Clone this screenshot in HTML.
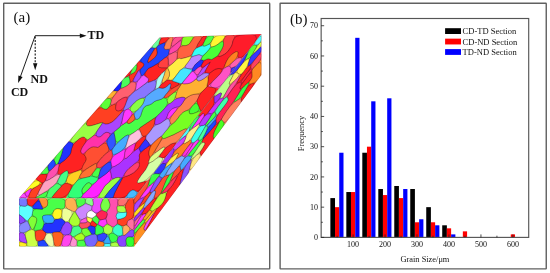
<!DOCTYPE html>
<html><head><meta charset="utf-8"><title>Figure</title>
<style>
html,body{margin:0;padding:0;background:#fff;}
svg{display:block;}
text{font-family:"Liberation Serif",serif;fill:#111;}
.tk{font-size:8px;}
.lb{font-size:8.4px;}
.lg{font-size:8.5px;}
.pl{font-size:15px;}
.ax{font-size:12px;font-weight:bold;}
</style></head><body>
<svg width="550" height="273" viewBox="0 0 550 273">
<rect width="550" height="273" fill="#fff"/>
<!-- panel frames -->
<rect x="3.7" y="3.25" width="266" height="265.65" rx="0.4" fill="#fff" stroke="#606060" stroke-width="1.4"/>
<rect x="280.1" y="3.25" width="266.15" height="265.65" rx="0.4" fill="#fff" stroke="#606060" stroke-width="1.4"/>
<!-- panel a -->
<text x="13.6" y="22.3" class="pl">(a)</text>
<g stroke="#111" stroke-width="0.95" fill="none">
<path d="M35.2 35.7H81"/>
<path d="M35.2 35.7L20.3 77"/>
<path d="M35.2 36.5V64" stroke-dasharray="2 1.4" stroke-width="1.1"/>
</g>
<g fill="#111">
<polygon points="86.6,35.7 79.8,33.5 79.8,37.9"/>
<polygon points="35.2,70.3 33,63.3 37.4,63.3"/>
<polygon points="18.1,83 18.4,75.6 22.6,77.1"/>
</g>
<text x="87.6" y="38.6" class="ax">TD</text>
<text x="30.6" y="83.3" class="ax">ND</text>
<text x="10.9" y="95.8" class="ax">CD</text>
<defs>
<filter id="soft" x="-5%" y="-5%" width="110%" height="110%"><feGaussianBlur stdDeviation="0.45"/></filter>
<clipPath id="blk"><polygon points="19,198 159.5,37.5 261.5,34 261.5,75 134,246.8 19,246.6"/></clipPath>
</defs>
<g clip-path="url(#blk)"><g id="grains" filter="url(#soft)">
<polygon points="14,203 160,33 266,30 266,80 136,252 14,252" fill="#d85060"/>
<polygon points="19,198 134,198 261.5,34 159.5,37.5" fill="#e04060"/>
<polygon points="134,198 261.5,34 261.5,75 134,247" fill="#d06040"/>
<rect x="19" y="198" width="115" height="49" fill="#70c070"/>
<g>
<path fill="#6aff9e" d="M155.2 48.2L156.3 47.6L158.5 45.2L161.1 37.4L159.5 37.5L150.7 47.6Z"/>
<path fill="#ff2222" d="M158.5 45.2L166.0 42.1L170.0 37.1L161.1 37.4ZM207.3 35.9L203.1 36.0L198.0 43.4L195.9 48.3L202.4 45.5ZM123.4 78.7L129.1 75.8L129.7 75.1L132.6 68.2ZM150.3 67.7L148.4 67.8L143.6 74.9L149.0 78.9L147.5 82.0L148.3 82.8L156.7 79.3L161.6 73.6L165.7 70.1L167.5 67.8L157.7 67.6L159.1 62.6ZM158.5 87.7L164.4 88.9L171.6 82.0L169.6 90.1L181.1 83.8L172.2 81.0L172.3 80.7L167.6 79.5L160.7 84.8ZM209.6 73.4L208.6 74.9L207.1 86.8L207.6 86.4L220.9 73.5L222.9 69.2L216.8 68.1L210.6 72.3ZM71.0 149.8L70.6 154.0L65.0 160.1L59.3 163.9L57.2 174.5L60.8 174.6L64.6 171.7L67.7 170.3L68.4 174.2L81.7 169.4L83.0 165.3L87.1 158.9L83.6 153.9L82.3 154.1L80.1 150.6L87.3 140.1L82.9 135.6L73.6 143.5ZM144.3 140.9L145.5 138.9L146.5 135.6L142.5 136.8L135.7 142.8L133.4 151.9L139.0 147.6ZM177.3 142.4L171.3 143.5L165.8 147.7L165.2 147.9L158.4 156.8L164.7 158.5ZM45.3 180.9L47.9 173.7L39.7 174.4L35.5 179.2L42.0 183.1L43.4 182.9ZM204.2 112.6L204.0 116.8L207.1 113.9L214.5 104.3L214.0 97.3L214.2 96.9L214.8 94.1L197.4 116.4L200.2 115.9ZM241.1 81.2L250.7 68.3L251.5 63.8L247.2 67.0L241.5 74.0L235.6 84.5ZM241.6 88.7L249.4 81.5L252.5 77.2L251.9 70.3L241.3 84.6L239.2 88.6ZM248.3 84.8L241.1 97.7L241.1 102.2L241.3 102.2L256.4 81.9ZM201.3 142.5L205.4 142.6L203.2 147.4L199.6 152.6L201.1 156.5L214.7 138.2L213.1 137.9L213.8 132.6L219.7 121.4L216.4 124.0L203.3 138.6ZM173.2 184.7L167.1 191.4L163.9 202.4L157.1 208.5L156.0 210.0L145.4 230.5L145.5 231.4L180.1 184.8L179.8 184.1L184.2 167.6L180.8 170.9L178.6 173.6ZM145.1 207.9L141.7 213.7L141.5 215.1L146.8 213.2L149.6 209.8L157.8 197.0L153.5 198.9ZM38.9 198.0L26.6 198.0L27.5 205.0L32.0 207.0L38.8 199.1ZM92.3 220.3L90.3 223.1L90.3 225.6L95.5 227.0L97.4 224.6Z"/>
<path fill="#2244ff" d="M150.7 47.6L138.8 61.1L145.2 64.2L139.3 70.3L141.6 76.5L143.6 74.9L148.4 67.8L150.3 67.7L159.1 62.6L159.5 62.0L168.1 55.4L168.2 55.2L169.9 49.2L163.3 49.5L166.0 42.1L158.5 45.2L156.3 47.6L157.7 55.1L148.6 62.6L147.7 62.5L148.2 59.7L149.4 56.9L155.2 48.2ZM216.0 118.7L207.8 127.9L202.7 138.6L203.3 138.6L216.4 124.0ZM44.1 239.6L37.5 241.5L37.9 246.6L49.3 246.6Z"/>
<path fill="#ff8050" d="M163.3 49.5L169.9 49.2L170.1 48.9L173.6 37.0L170.0 37.1L166.0 42.1ZM196.5 101.4L198.4 98.1L200.0 93.7L192.0 94.3L185.3 98.5L181.4 105.2L179.3 106.6L169.1 118.9L170.7 125.0L175.2 122.2L182.1 112.5L189.3 109.6ZM152.0 155.6L163.6 146.6L165.2 147.9L165.8 147.7L171.3 143.5L177.3 142.4L187.3 129.5L185.8 128.1L173.0 135.1L172.7 134.8L163.5 139.0L162.3 138.3Z"/>
<path fill="#ff5090" d="M170.1 48.9L182.3 38.7L183.4 36.7L173.6 37.0Z"/>
<path fill="#ff44aa" d="M168.2 55.2L177.5 50.3L180.8 45.8L182.3 38.7L170.1 48.9L169.9 49.2Z"/>
<path fill="#88ff22" d="M188.1 45.6L192.1 40.2L194.1 36.3L183.4 36.7L182.3 38.7L180.8 45.8Z"/>
<path fill="#ff6040" d="M194.1 36.3L192.1 40.2L188.1 45.6L180.8 45.8L177.5 50.3L177.0 59.3L179.3 58.0L180.8 59.1L191.5 55.9L193.9 50.7L195.9 48.3L198.0 43.4L203.1 36.0Z"/>
<path fill="#35fff6" d="M208.3 50.7L210.7 47.2L210.4 43.5L204.6 46.3L202.4 45.5L195.9 48.3L193.9 50.7L191.5 55.9L191.4 56.8L198.6 54.9L199.2 54.6L202.6 56.2Z"/>
<path fill="#ff4020" d="M148.6 62.6L157.7 55.1L156.3 47.6L155.2 48.2L149.4 56.9L148.2 59.7L147.7 62.5ZM110.0 105.9L106.2 110.2L99.3 106.3L86.5 120.9L86.5 127.3L102.4 122.3L102.7 123.0L102.8 123.0L107.0 124.7L114.2 121.0L123.3 110.3L123.3 109.9L115.3 111.4L116.1 103.2ZM154.3 125.4L155.5 117.4L155.4 117.3L140.2 127.3L139.1 128.9L142.5 136.8L146.5 135.6L149.7 132.2ZM36.0 197.2L43.4 182.9L42.0 183.1L31.5 189.3L27.6 198.0L35.4 198.0ZM137.9 208.6L145.4 202.1L151.9 192.5L149.5 192.1L145.0 196.6ZM126.6 212.5L126.8 212.6L125.9 217.3L117.3 219.8L117.2 220.6L117.4 224.0L122.5 226.4L126.7 224.6L127.5 223.2L127.5 220.7L134.0 218.0L134.0 198.0L129.4 198.0L124.6 205.9ZM34.7 230.7L35.3 239.5L37.5 241.5L44.1 239.6L46.6 233.3L42.0 229.4Z"/>
<path fill="#ff6080" d="M173.5 62.9L177.0 59.3L177.5 50.3L168.2 55.2L168.1 55.4L168.4 66.8Z"/>
<path fill="#bb88ff" d="M191.4 56.8L189.3 60.7L183.8 67.8L192.1 69.5L195.1 64.4L200.0 60.6L200.8 59.7L202.6 56.2L199.2 54.6L198.6 54.9Z"/>
<path fill="#ff3322" d="M139.3 70.3L145.2 64.2L138.8 61.1L136.8 63.4L136.6 71.0L129.7 75.1L129.1 75.8L130.2 82.9L132.3 81.7L137.9 71.2Z"/>
<path fill="#4eff4e" d="M129.7 75.1L136.6 71.0L136.8 63.4L132.6 68.2Z"/>
<path fill="#ff4040" d="M168.4 66.8L168.1 55.4L159.5 62.0L159.1 62.6L157.7 67.6L167.5 67.8ZM236.1 34.9L225.9 35.2L223.0 40.2L223.8 45.8L217.8 55.9L220.1 56.8L227.0 53.0L232.4 45.0L232.3 41.9Z"/>
<path fill="#ffef42" d="M191.4 56.8L191.5 55.9L180.8 59.1L179.3 58.0L177.0 59.3L173.5 62.9L168.4 66.8L167.6 67.8L170.1 74.3L167.6 79.5L172.3 80.7L180.3 70.1L180.5 69.9L182.5 69.0L183.8 67.8L189.3 60.7Z"/>
<path fill="#2233ff" d="M200.7 66.3L204.1 60.6L200.8 59.7L200.0 60.6L195.1 64.4L192.1 69.5L191.6 71.7L193.6 71.4L199.3 66.7ZM61.6 154.4L57.8 163.9L59.3 163.9L65.0 160.1L70.6 154.0L71.0 149.8L73.6 143.5L68.9 141.0L63.6 147.1L61.5 154.3ZM43.0 208.5L38.8 199.1L32.0 207.0L33.1 208.8L42.5 209.7ZM65.7 221.9L61.6 218.3L54.6 219.4L53.6 221.9L52.7 223.2L44.3 223.2L42.0 229.4L46.6 233.3L52.2 233.3L53.8 232.0L60.3 232.0L62.0 226.9ZM95.5 227.0L90.3 225.6L88.0 226.9L87.4 227.8L91.8 234.5L95.2 234.1Z"/>
<path fill="#ff50c0" d="M200.7 66.3L199.3 66.7L193.6 71.4L197.4 76.2L202.6 68.0Z"/>
<path fill="#44e6ff" d="M183.8 67.8L182.5 69.0L180.5 69.9L180.3 70.1L172.3 80.7L172.2 81.0L181.1 83.8L181.5 83.7L181.9 83.3L191.6 71.7L192.1 69.5Z"/>
<path fill="#b649ff" d="M210.3 61.9L202.6 68.0L197.4 76.2L196.9 78.0L204.1 72.9L210.2 62.6Z"/>
<path fill="#49ff49" d="M202.4 45.5L204.6 46.3L210.4 43.5L214.8 35.6L207.3 35.9ZM161.0 112.8L168.0 104.3L166.8 98.1L163.3 97.9L162.5 98.3L161.1 99.5L155.3 100.6L150.8 104.6L143.6 106.4L140.2 117.5L137.6 119.3L135.5 119.2L128.9 124.2L126.5 122.1L120.8 126.0L119.6 127.4L114.6 131.2L114.0 132.0L116.0 144.3L123.7 137.1L127.7 134.9L129.1 135.4L134.6 132.3L139.1 128.9L140.2 127.3L155.4 117.3L155.5 117.4ZM63.6 147.1L53.4 158.7L56.1 164.9L57.8 163.9L61.6 154.4L61.5 154.3ZM48.9 172.0L47.5 165.4L39.7 174.4L47.9 173.7ZM96.7 167.8L90.8 175.7L98.3 178.0L100.9 168.0ZM36.0 197.2L35.4 198.0L45.8 198.0L48.8 189.8ZM88.1 181.5L82.4 188.0L81.4 191.5L83.0 194.5L88.9 189.3L92.4 185.0ZM212.5 113.7L205.2 124.7L205.6 126.1L206.6 125.6L216.7 115.4L214.5 111.3ZM142.5 219.7L134.0 230.3L134.0 234.8L144.1 222.8L145.7 219.8ZM47.1 198.0L48.0 205.8L43.0 208.5L42.5 209.7L33.1 208.8L31.9 216.0L37.9 218.0L33.5 229.9L34.7 230.7L42.0 229.4L44.3 223.2L42.1 217.4L43.5 215.0L52.0 215.0L54.8 208.4L62.3 209.4L64.9 207.7L65.5 198.0ZM85.2 203.3L85.7 198.0L75.0 198.0L77.4 208.2L84.1 204.8ZM99.7 220.0L96.2 215.3L92.1 218.5L92.3 220.3L97.4 224.6L97.7 224.5ZM84.3 239.8L77.1 240.6L76.7 246.6L86.7 246.6Z"/>
<path fill="#fff633" d="M210.4 43.5L210.7 47.2L215.7 46.2L223.0 40.2L225.9 35.2L214.8 35.6Z"/>
<path fill="#ff1a2a" d="M236.1 34.9L232.3 41.9L232.4 45.0L227.0 53.0L220.1 56.8L217.8 55.9L213.3 58.3L211.7 59.7L208.1 58.4L204.1 60.6L200.7 66.3L202.6 68.0L210.3 61.9L210.2 62.6L204.1 72.9L209.6 73.4L210.6 72.3L216.8 68.1L222.9 69.2L223.3 68.7L228.6 56.7L238.4 49.9L237.3 57.9L243.1 57.6L261.5 34.0Z"/>
<path fill="#49ff37" d="M223.8 45.8L223.0 40.2L215.7 46.2L210.7 47.2L208.3 50.7L202.6 56.2L200.8 59.7L204.1 60.6L208.1 58.4L211.7 59.7L213.3 58.3L217.8 55.9Z"/>
<path fill="#ff8020" d="M229.0 65.6L237.3 57.9L238.4 49.9L228.6 56.7L223.3 68.7ZM191.9 140.9L190.8 139.7L184.3 143.8L184.4 143.5L183.7 143.0L174.4 151.2L170.6 158.2L179.5 151.6L175.7 159.2L179.2 157.6L181.2 155.7L191.1 142.5ZM97.7 240.7L94.5 246.6L103.9 246.6L104.3 243.5L103.3 241.9Z"/>
<path fill="#ff60b0" d="M237.3 57.9L229.0 65.6L231.2 68.3L236.6 66.0L243.1 57.6Z"/>
<path fill="#ff52c5" d="M229.0 65.6L223.3 68.7L222.9 69.2L220.9 73.5L207.6 86.4L219.0 88.7L230.8 73.5L231.2 68.3Z"/>
<path fill="#49ff5b" d="M120.3 88.8L126.8 86.2L130.2 82.9L129.1 75.8L123.4 78.7L122.0 80.3Z"/>
<path fill="#ee55ff" d="M149.0 78.9L143.6 74.9L141.6 76.5L136.4 82.5L135.3 90.6L136.9 90.3L147.5 82.0Z"/>
<path fill="#a449ff" d="M141.6 76.5L139.3 70.3L137.9 71.2L132.3 81.7L136.4 82.5Z"/>
<path fill="#ffc040" d="M167.6 67.8L165.7 70.1L160.7 84.8L167.6 79.5L170.1 74.3Z"/>
<path fill="#aaffee" d="M161.6 73.6L156.7 79.3L155.3 89.5L156.9 89.0L158.5 87.7L160.7 84.8L165.7 70.1Z"/>
<path fill="#1224ff" d="M119.5 89.8L120.3 88.8L122.0 80.3L112.9 90.8L117.8 91.2Z"/>
<path fill="#ffb030" d="M111.6 98.7L117.8 91.2L112.9 90.8L106.2 98.4ZM207.1 86.8L208.6 74.9L202.0 80.1L197.8 81.2L196.6 78.5L190.3 83.4L183.5 83.9L181.9 83.3L181.5 83.7L177.4 89.9L174.7 99.2L181.7 97.0L185.0 97.7L185.3 98.5L192.0 94.3L200.0 93.7L204.8 89.3Z"/>
<path fill="#ff6070" d="M132.3 81.7L130.2 82.9L126.8 86.2L120.3 88.8L119.5 89.8L117.8 91.2L111.6 98.7L110.0 105.9L116.1 103.2L119.2 100.2L124.6 97.1L128.1 97.2L135.3 90.6L136.4 82.5Z"/>
<path fill="#8877ff" d="M155.3 89.5L156.7 79.3L148.3 82.8L147.5 82.0L136.9 90.3L135.3 90.6L128.1 97.2L123.3 109.9L123.3 110.3L124.2 110.6L128.7 108.7L138.0 99.1L145.1 97.7L147.3 95.0Z"/>
<path fill="#55aaff" d="M169.6 90.1L171.6 82.0L164.4 88.9L158.5 87.7L156.9 89.0L155.3 89.5L147.3 95.0L145.1 97.7L142.6 105.3L133.4 113.4L135.5 119.2L137.6 119.3L140.2 117.5L143.6 106.4L150.8 104.6L155.3 100.6L161.1 99.5L162.5 98.3L163.3 97.9Z"/>
<path fill="#5bff37" d="M106.2 110.2L110.0 105.9L111.6 98.7L106.2 98.4L99.3 106.3ZM244.1 61.4L250.3 57.4L251.5 55.7L257.9 45.0L253.0 44.9L249.1 50.0Z"/>
<path fill="#ff3050" d="M123.3 109.9L128.1 97.2L124.6 97.1L119.2 100.2L116.1 103.2L115.3 111.4Z"/>
<path fill="#88ff44" d="M145.1 97.7L138.0 99.1L128.7 108.7L133.2 113.5L142.6 105.3Z"/>
<path fill="#aa33ff" d="M172.0 102.2L168.0 104.3L161.0 112.8L155.5 117.4L154.3 125.4L159.8 124.1L166.5 118.9L168.5 112.6L172.2 108.5L179.3 106.6L181.4 105.2L185.3 98.5L185.0 97.7L181.7 97.0L174.7 99.2ZM140.7 152.5L139.0 147.6L133.4 151.9L126.4 158.3L124.1 158.9L119.3 163.8L111.6 167.7L110.2 169.8L111.8 179.7L117.5 177.1L121.3 178.1L122.5 177.7L127.1 169.6L138.6 160.8L139.8 158.0L139.1 155.1Z"/>
<path fill="#ff49ff" d="M183.5 83.9L190.3 83.4L196.6 78.5L196.9 78.0L197.4 76.2L193.6 71.4L191.6 71.7L181.9 83.3ZM24.3 193.0L23.1 193.3L19.0 198.0L27.6 198.0ZM146.2 222.8L143.1 229.3L145.4 230.5L156.0 210.0Z"/>
<path fill="#aa88ff" d="M196.9 78.0L196.6 78.5L197.8 81.2L202.0 80.1L208.6 74.9L209.6 73.4L204.1 72.9Z"/>
<path fill="#ff5030" d="M181.1 83.8L169.6 90.1L163.3 97.9L166.8 98.1L177.4 89.9L181.5 83.7ZM109.9 150.6L105.9 141.3L97.6 147.7L97.3 146.9L91.0 146.6L83.6 153.9L87.1 158.9L83.0 165.3L81.7 169.4L81.7 172.2L94.5 163.8L96.9 163.5L103.3 155.8ZM138.6 199.8L147.6 187.4L150.7 176.5L134.0 198.0L134.0 204.7ZM164.4 176.2L162.4 178.3L153.8 190.8L156.1 191.1L153.5 198.9L157.8 197.0L160.9 193.7L166.3 179.7L169.8 174.5ZM169.2 183.2L178.6 173.6L180.8 170.9L179.9 164.9L174.0 171.3Z"/>
<path fill="#ff2121" d="M207.1 86.8L204.8 89.3L200.0 93.7L198.4 98.1L196.5 101.4L200.5 110.8L201.5 111.1L219.0 88.7L207.6 86.4ZM139.9 166.3L133.3 173.5L122.5 177.7L122.5 178.0L114.4 193.1L113.0 197.8L112.9 198.0L124.9 198.0L132.0 188.8L138.1 192.8L147.8 180.2L135.7 184.1L140.6 175.9L146.2 169.4L148.8 163.1L148.3 162.2L150.0 158.0L148.4 152.5L151.2 145.0L150.5 145.1L142.8 150.3L140.7 152.5L139.1 155.1L139.8 158.0L138.6 160.8Z"/>
<path fill="#46ff35" d="M189.1 115.1L200.5 110.8L196.5 101.4L189.3 109.6Z"/>
<path fill="#ff33ff" d="M179.3 106.6L172.2 108.5L168.5 112.6L166.5 118.9L169.1 118.9ZM31.5 189.3L30.9 187.9L24.3 193.0L27.6 198.0ZM125.2 148.7L112.8 156.0L110.7 160.4L111.6 167.7L119.3 163.8L124.1 158.9L125.4 148.9Z"/>
<path fill="#92ff37" d="M166.8 98.1L168.0 104.3L172.0 102.2L174.7 99.2L177.4 89.9Z"/>
<path fill="#4937ff" d="M231.2 68.3L230.8 73.5L236.6 66.0Z"/>
<path fill="#ff37ff" d="M128.7 108.7L124.2 110.6L120.8 126.0L126.5 122.1L133.2 113.5ZM190.1 130.5L199.0 124.1L199.4 123.5L204.0 116.8L204.2 112.6L200.2 115.9ZM138.6 199.8L145.0 196.6L149.5 192.1L155.4 180.7L147.6 187.4ZM141.5 215.1L134.0 227.7L134.0 230.3L142.5 219.7L146.8 213.2ZM103.2 227.3L107.2 223.7L106.6 220.6L105.8 218.8L99.7 220.0L97.7 224.5Z"/>
<path fill="#ff6030" d="M133.4 113.4L133.2 113.5L126.5 122.1L128.9 124.2L135.5 119.2Z"/>
<path fill="#99ff44" d="M86.5 127.3L86.5 120.9L68.9 141.0L73.6 143.5L82.9 135.6L87.3 140.1L90.6 138.3L94.8 134.4L102.7 123.0L102.4 122.3ZM117.5 177.1L111.8 179.7L105.2 185.5L104.7 185.8L97.3 198.0L103.8 198.0L108.0 192.7L109.3 190.7L121.3 178.1Z"/>
<path fill="#aa44ff" d="M120.8 126.0L124.2 110.6L123.3 110.3L114.2 121.0L107.0 124.7L102.8 123.0L102.7 123.0L94.8 134.4L99.2 138.3L106.1 131.4L111.2 134.3L114.0 132.0L114.6 131.2L119.6 127.4ZM137.9 208.6L145.0 196.6L138.6 199.8L134.0 204.7L134.0 213.1ZM19.0 232.3L19.0 241.5L26.7 243.5L27.3 242.5L24.4 232.9Z"/>
<path fill="#ff33aa" d="M106.1 131.4L99.2 138.3L94.8 134.4L90.6 138.3L87.3 140.1L80.1 150.6L82.3 154.1L83.6 153.9L91.0 146.6L97.3 146.9L97.6 147.7L105.9 141.3L111.2 134.3Z"/>
<path fill="#3355ff" d="M109.9 150.6L111.7 149.9L116.0 144.3L114.0 132.0L111.2 134.3L105.9 141.3Z"/>
<path fill="#44aaff" d="M129.1 135.4L127.7 134.9L123.7 137.1L116.0 144.3L111.7 149.9L112.8 156.0L125.2 148.7ZM217.7 114.7L216.7 115.4L206.6 125.6L207.8 127.9L216.0 118.7ZM160.3 173.8L158.8 176.3L162.4 178.3L164.4 176.2L173.9 161.3L164.3 168.5ZM179.9 164.9L180.8 170.9L184.2 167.6L190.4 159.9L192.4 156.1L187.0 155.9L184.6 158.0Z"/>
<path fill="#ffc0e0" d="M142.5 136.8L139.1 128.9L134.6 132.3L129.1 135.4L125.2 148.7L125.4 148.9L134.6 143.1L135.7 142.8Z"/>
<path fill="#ff33dd" d="M133.4 151.9L135.7 142.8L134.6 143.1L125.4 148.9L124.1 158.9L126.4 158.3ZM194.0 142.8L191.1 142.5L181.2 155.7L184.8 156.9Z"/>
<path fill="#77ff22" d="M187.3 129.5L201.5 111.1L200.5 110.8L189.1 115.1L189.3 109.6L182.1 112.5L175.2 122.2L170.7 125.0L162.1 135.3L161.6 136.2L162.3 138.3L163.5 139.0L172.7 134.8L173.0 135.1L185.8 128.1Z"/>
<path fill="#aa99ff" d="M170.7 125.0L169.1 118.9L166.5 118.9L159.8 124.1L154.3 125.4L149.7 132.2L146.5 135.6L145.5 138.9L150.5 145.1L151.2 145.0L158.3 138.3L161.6 136.2L162.1 135.3Z"/>
<path fill="#3333ff" d="M150.5 145.1L145.5 138.9L144.3 140.9L139.0 147.6L140.7 152.5L142.8 150.3ZM160.3 173.8L164.3 168.5L166.8 163.6L160.9 163.4L152.9 173.7Z"/>
<path fill="#ff7020" d="M161.6 136.2L158.3 138.3L151.2 145.0L148.4 152.5L150.0 158.0L152.0 155.6L162.3 138.3Z"/>
<path fill="#ddff88" d="M148.8 163.1L152.8 161.6L158.4 156.8L165.2 147.9L163.6 146.6L152.0 155.6L150.0 158.0L148.3 162.2Z"/>
<path fill="#2449ff" d="M48.9 172.0L56.1 164.9L53.4 158.7L47.5 165.4ZM122.5 178.0L122.5 177.7L121.3 178.1L109.3 190.7L108.0 192.7L103.8 198.0L112.9 198.0L113.0 197.8L114.4 193.1Z"/>
<path fill="#ff50b0" d="M59.3 163.9L57.8 163.9L56.1 164.9L48.9 172.0L47.9 173.7L45.3 180.9L48.1 180.5L57.2 174.5ZM118.1 198.0L107.7 198.0L110.7 206.0L106.4 212.0L107.5 214.4L105.8 218.8L106.6 220.6L107.2 223.7L113.1 227.6L117.4 224.0L117.2 220.6L117.3 219.8L115.8 215.7L117.7 212.5L116.8 207.0L117.8 205.9Z"/>
<path fill="#ffd020" d="M81.7 169.4L68.4 174.2L65.4 182.8L73.2 185.2L75.0 183.5L78.5 179.1L81.7 172.2Z"/>
<path fill="#ff7030" d="M78.5 179.1L89.5 176.9L90.8 175.7L96.7 167.8L96.9 163.5L94.5 163.8L81.7 172.2Z"/>
<path fill="#ffa0c0" d="M60.8 174.6L57.2 174.5L48.1 180.5L45.3 180.9L43.4 182.9L36.0 197.2L48.8 189.8L50.2 188.1L52.7 186.7L56.6 182.8Z"/>
<path fill="#44ff88" d="M65.4 182.8L68.4 174.2L67.7 170.3L64.6 171.7L60.8 174.6L56.6 182.8L61.6 185.7ZM81.7 229.0L78.8 225.6L72.5 226.4L70.2 234.6L72.4 236.7L73.4 237.0L81.7 232.5Z"/>
<path fill="#33ff77" d="M90.8 175.7L89.5 176.9L78.5 179.1L75.0 183.5L73.2 185.2L65.6 198.0L81.2 198.0L83.0 194.5L81.4 191.5L82.4 188.0L88.1 181.5L92.4 185.0L96.5 181.8L98.3 179.1L98.3 178.0Z"/>
<path fill="#ffff22" d="M31.5 189.3L42.0 183.1L35.5 179.2L23.1 193.3L24.3 193.0L30.9 187.9Z"/>
<path fill="#ff3121" d="M65.4 182.8L61.6 185.7L60.1 187.8L53.5 194.7L51.5 198.0L65.6 198.0L73.2 185.2Z"/>
<path fill="#ff22ff" d="M106.4 173.8L98.3 179.1L96.5 181.8L92.4 185.0L88.9 189.3L83.0 194.5L81.2 198.0L97.3 198.0L104.7 185.8L105.2 185.5L111.8 179.7L110.2 169.8Z"/>
<path fill="#49ff6d" d="M52.7 186.7L50.2 188.1L48.8 189.8L45.8 198.0L51.5 198.0L53.5 194.7L60.1 187.8L61.6 185.7L56.6 182.8Z"/>
<path fill="#ff4050" d="M111.7 149.9L109.9 150.6L103.3 155.8L96.9 163.5L96.7 167.8L100.9 168.0L110.7 160.4L112.8 156.0Z"/>
<path fill="#3344ff" d="M110.2 169.8L111.6 167.7L110.7 160.4L100.9 168.0L98.3 178.0L98.3 179.1L106.4 173.8ZM96.7 235.1L97.7 240.7L103.3 241.9L108.0 234.8L103.7 232.8Z"/>
<path fill="#ff4070" d="M139.9 166.3L138.6 160.8L127.1 169.6L122.6 177.7L133.3 173.5Z"/>
<path fill="#d6ffa5" d="M152.8 161.6L148.8 163.1L146.2 169.4L140.6 175.9L135.7 184.1L147.8 180.2L164.7 158.5L158.4 156.8Z"/>
<path fill="#44bbff" d="M132.0 188.8L124.9 198.0L134.0 198.0L138.1 192.8Z"/>
<path fill="#fff742" d="M241.5 74.0L247.2 67.0L250.3 57.4L244.1 61.4L235.4 72.2L240.7 74.5Z"/>
<path fill="#3737ff" d="M234.3 73.4L235.4 72.2L244.1 61.4L249.1 50.0L228.9 75.9ZM247.2 67.0L251.5 63.8L261.5 51.5L261.5 45.9L251.5 55.7L250.3 57.4Z"/>
<path fill="#ddff44" d="M251.5 55.7L261.5 45.9L261.5 40.9L257.9 45.0Z"/>
<path fill="#49ffff" d="M261.5 40.9L261.5 34.0L253.0 44.9L257.9 45.0ZM176.5 143.4L187.0 134.3L189.1 131.5L190.7 125.0ZM103.9 246.6L110.6 246.6L110.6 243.5L104.3 243.5Z"/>
<path fill="#ff4060" d="M251.5 63.8L250.7 68.3L252.2 69.7L261.5 59.3L261.5 51.5Z"/>
<path fill="#ff8820" d="M251.9 70.3L252.5 77.2L249.4 81.5L248.3 84.8L256.4 81.9L261.5 75.0L261.5 59.3L252.2 69.7Z"/>
<path fill="#bbff88" d="M222.5 91.4L219.6 99.0L223.1 97.7L230.5 84.5L228.8 83.5L234.3 73.4L228.9 75.9L214.8 94.1L214.2 96.9Z"/>
<path fill="#ff50a0" d="M223.7 99.2L226.9 96.6L235.6 84.5L241.5 74.0L240.7 74.5L230.5 84.5L223.1 97.7Z"/>
<path fill="#ffee66" d="M235.4 72.2L234.3 73.4L228.8 83.5L230.5 84.5L240.7 74.5Z"/>
<path fill="#37ff49" d="M232.4 103.6L241.1 97.7L248.3 84.8L249.4 81.5L241.6 88.7ZM147.6 187.4L155.4 180.7L158.8 176.3L160.3 173.8L152.9 173.7L150.7 176.5ZM170.3 173.9L169.8 174.5L166.3 179.7L160.9 193.7L161.3 193.4L169.2 183.2L174.0 171.3ZM192.4 156.1L201.3 142.5L203.3 138.6L202.7 138.6L199.5 140.7L187.0 155.9ZM108.0 234.8L110.9 243.0L116.8 241.7L118.3 236.4L112.3 232.4Z"/>
<path fill="#ff2255" d="M241.3 84.6L241.1 81.2L235.6 84.5L226.9 96.6L228.5 99.6L226.7 102.9L217.7 114.7L216.0 118.7L216.4 124.0L219.7 121.4L220.8 120.2L227.9 109.0L232.4 103.6L241.6 88.7L239.2 88.6ZM105.8 218.8L107.5 214.4L106.4 212.0L101.7 209.9L96.3 213.7L96.2 215.3L99.7 220.0Z"/>
<path fill="#9933ff" d="M214.5 104.3L219.6 99.0L222.5 91.4L214.2 96.9L214.0 97.3ZM166.8 163.6L170.6 158.2L174.4 151.2L173.3 147.4L160.9 163.4ZM134.0 217.8L134.0 222.1L141.7 213.7L145.1 207.9L143.2 207.8Z"/>
<path fill="#cc33ff" d="M207.1 113.9L212.5 113.7L214.5 111.3L223.7 99.2L223.1 97.7L219.6 99.0L214.5 104.3Z"/>
<path fill="#40ffaa" d="M214.5 111.3L216.7 115.4L217.7 114.7L226.7 102.9L228.5 99.6L226.9 96.6L223.7 99.2Z"/>
<path fill="#ff8060" d="M241.1 97.7L232.4 103.6L227.9 109.0L220.8 120.2L221.8 119.8L225.0 124.2L241.3 102.2L241.1 102.2Z"/>
<path fill="#ff2244" d="M251.9 70.3L252.2 69.7L250.7 68.3L241.1 81.2L241.3 84.6Z"/>
<path fill="#b637ff" d="M204.0 116.8L199.4 123.5L199.2 126.2L204.4 125.4L205.2 124.7L212.5 113.7L207.1 113.9Z"/>
<path fill="#ffee88" d="M190.8 139.7L199.2 126.2L199.4 123.5L199.0 124.1L190.1 130.5L189.1 131.5L187.0 134.3L183.7 143.0L184.4 143.5L184.3 143.8Z"/>
<path fill="#3bffeb" d="M199.2 126.2L190.8 139.7L191.9 140.9L191.1 142.5L194.0 142.8L197.7 139.6L205.6 126.1L205.2 124.7L204.4 125.4Z"/>
<path fill="#cc44ff" d="M174.4 151.2L183.7 143.0L187.0 134.3L176.5 143.4L173.3 147.4Z"/>
<path fill="#ff44ff" d="M187.0 155.9L199.5 140.7L197.7 139.6L194.0 142.8L184.8 156.9L184.6 158.0Z"/>
<path fill="#ccff88" d="M191.9 159.3L199.6 152.6L203.2 147.4L205.4 142.6L201.3 142.5L192.4 156.1L190.4 159.9Z"/>
<path fill="#ffee44" d="M164.3 168.5L173.9 161.3L175.7 159.2L179.5 151.6L170.6 158.2L166.8 163.6Z"/>
<path fill="#88aaff" d="M181.2 155.7L179.2 157.6L175.7 159.2L173.9 161.3L164.4 176.2L169.8 174.5L170.3 173.9L174.0 171.3L179.9 164.9L184.6 158.0L184.8 156.9ZM156.1 191.1L153.8 190.8L151.9 192.5L145.4 202.1L143.2 207.8L145.1 207.9L153.5 198.9Z"/>
<path fill="#8855ff" d="M153.8 190.8L162.4 178.3L158.8 176.3L155.4 180.7L149.5 192.1L151.9 192.5ZM191.9 159.3L190.4 159.9L184.2 167.6L179.8 184.1L180.1 184.8L188.7 173.2Z"/>
<path fill="#ff3060" d="M161.3 193.4L162.0 194.0L167.1 191.4L173.2 184.7L178.6 173.6L169.2 183.2Z"/>
<path fill="#b6ff37" d="M167.1 191.4L162.0 194.0L161.3 193.4L160.9 193.7L157.8 197.0L149.6 209.8L152.4 211.5L156.5 208.5L157.1 208.5L163.9 202.4Z"/>
<path fill="#ffdd22" d="M137.9 208.6L134.0 213.1L134.0 217.8L143.2 207.8L145.4 202.1Z"/>
<path fill="#ffcc22" d="M144.1 222.8L146.2 222.8L156.0 210.0L157.1 208.5L156.5 208.5L152.4 211.5L145.7 219.8Z"/>
<path fill="#ff60a0" d="M141.5 215.1L141.7 213.7L134.0 222.1L134.0 227.7Z"/>
<path fill="#ff9020" d="M134.0 247.0L145.5 231.4L145.4 230.5L143.1 229.3L146.2 222.8L144.1 222.8L134.0 234.8Z"/>
<path fill="#ffa820" d="M152.4 211.5L149.6 209.8L146.8 213.2L142.5 219.7L145.7 219.8Z"/>
<path fill="#49ff24" d="M213.8 132.6L213.1 137.9L214.7 138.2L225.0 124.2L221.8 119.8L220.8 120.2L219.7 121.4Z"/>
<path fill="#46ff9e" d="M206.6 125.6L205.6 126.1L197.7 139.6L199.5 140.7L202.7 138.6L207.8 127.9Z"/>
<path fill="#37ff6d" d="M197.4 116.4L190.7 125.0L189.1 131.5L190.1 130.5L200.2 115.9Z"/>
<path fill="#ffe684" d="M199.6 152.6L191.9 159.3L188.7 173.2L201.1 156.5Z"/>
<path fill="#7777ff" d="M26.6 198.0L19.0 198.0L19.0 205.5L25.1 206.8L27.5 205.0Z"/>
<path fill="#ff9030" d="M38.8 199.1L43.0 208.5L48.0 205.8L47.1 198.0L38.9 198.0Z"/>
<path fill="#ffb050" d="M76.6 210.3L77.4 208.2L75.0 198.0L65.5 198.0L64.9 207.7L74.0 211.9L75.1 211.7Z"/>
<path fill="#88ff88" d="M93.8 204.5L92.4 198.0L85.7 198.0L85.2 203.3L92.2 206.2Z"/>
<path fill="#cc88ff" d="M85.2 203.3L84.1 204.8L77.4 208.2L76.6 210.3L75.1 211.7L80.2 220.6L86.7 217.3L86.9 216.9L86.6 213.6L88.5 211.4L91.5 210.2L92.2 206.2Z"/>
<path fill="#5bffff" d="M19.0 205.5L19.0 214.8L19.7 214.7L26.8 221.0L27.7 221.1L31.0 216.6L31.9 216.0L33.1 208.8L32.0 207.0L27.5 205.0L25.1 206.8Z"/>
<path fill="#fff721" d="M61.6 218.3L62.3 209.4L54.8 208.4L52.0 215.0L54.6 219.4Z"/>
<path fill="#eeff99" d="M65.7 221.9L68.2 221.9L74.0 211.9L64.9 207.7L62.3 209.4L61.6 218.3Z"/>
<path fill="#ffffff" d="M96.3 213.7L91.5 210.2L88.5 211.4L86.6 213.6L86.9 216.9L92.1 218.5L96.2 215.3Z"/>
<path fill="#8844ff" d="M26.8 221.0L19.7 214.7L19.0 214.8L19.0 224.8ZM124.4 235.8L123.0 235.2L118.3 236.4L116.8 241.7L119.7 246.6L126.7 246.6L125.6 237.0L134.0 237.0L134.0 230.0L130.8 229.4Z"/>
<path fill="#80ff37" d="M31.9 216.0L31.0 216.6L27.7 221.1L31.3 229.2L33.5 229.9L37.9 218.0Z"/>
<path fill="#33aaff" d="M54.6 219.4L52.0 215.0L43.5 215.0L42.1 217.4L44.3 223.2L52.7 223.2L53.6 221.9ZM104.3 243.5L110.6 243.5L110.9 243.0L108.0 234.8L103.3 241.9Z"/>
<path fill="#aaff33" d="M79.9 223.0L80.2 220.6L75.1 211.7L74.0 211.9L68.2 221.9L72.5 226.4L78.8 225.6Z"/>
<path fill="#ff55dd" d="M86.7 217.3L80.2 220.6L79.9 223.0L86.3 223.0L87.4 221.3Z"/>
<path fill="#ed49ff" d="M103.8 198.0L92.4 198.0L93.8 204.5L92.2 206.2L91.5 210.2L96.3 213.7L101.7 209.9L100.2 205.2Z"/>
<path fill="#77ff44" d="M110.7 206.0L107.7 198.0L103.8 198.0L100.2 205.2L101.7 209.9L106.4 212.0Z"/>
<path fill="#ff7070" d="M117.8 205.9L124.6 205.9L129.4 198.0L118.1 198.0Z"/>
<path fill="#aaff44" d="M124.6 205.9L117.8 205.9L116.8 207.0L117.7 212.5L126.6 212.5ZM103.2 227.3L103.7 232.8L108.0 234.8L112.3 232.4L113.1 227.6L107.2 223.7ZM116.8 241.7L110.9 243.0L110.6 243.5L110.6 246.6L119.7 246.6Z"/>
<path fill="#ffff44" d="M92.1 218.5L86.9 216.9L86.7 217.3L87.4 221.3L90.3 223.1L92.3 220.3Z"/>
<path fill="#4effff" d="M125.9 217.3L126.8 212.6L126.6 212.5L117.7 212.5L115.8 215.7L117.3 219.8Z"/>
<path fill="#ff70a0" d="M127.5 223.2L126.7 224.6L130.8 229.4L134.0 230.0L134.0 218.0L127.5 220.7Z"/>
<path fill="#8888ff" d="M24.4 232.9L31.3 229.2L27.7 221.1L26.8 221.0L19.0 224.8L19.0 232.3Z"/>
<path fill="#9944ff" d="M68.2 221.9L65.7 221.9L62.0 226.9L60.3 232.0L63.9 235.4L70.2 234.6L72.5 226.4Z"/>
<path fill="#ff5060" d="M90.3 223.1L87.4 221.3L86.3 223.0L79.9 223.0L78.8 225.6L81.7 229.0L87.4 227.8L88.0 226.9L90.3 225.6Z"/>
<path fill="#77ff33" d="M87.4 227.8L81.7 229.0L81.7 232.5L85.0 237.1L91.0 235.0L91.8 234.5Z"/>
<path fill="#ccff44" d="M24.4 232.9L27.3 242.5L26.7 243.5L26.7 246.6L37.9 246.6L37.5 241.5L35.3 239.5L34.7 230.7L33.5 229.9L31.3 229.2Z"/>
<path fill="#ff6020" d="M63.9 235.4L60.3 232.0L53.8 232.0L52.2 233.3L54.4 246.6L60.6 246.6Z"/>
<path fill="#eeffaa" d="M52.2 233.3L46.6 233.3L44.1 239.6L49.3 246.6L54.4 246.6Z"/>
<path fill="#ff44ee" d="M63.9 235.4L60.6 246.6L69.2 246.6L72.4 236.7L70.2 234.6Z"/>
<path fill="#ff90d0" d="M72.4 236.7L69.2 246.6L76.7 246.6L77.1 240.6L73.4 237.0Z"/>
<path fill="#aaff22" d="M81.7 232.5L73.4 237.0L77.1 240.6L84.3 239.8L85.0 237.1Z"/>
<path fill="#7766ff" d="M96.7 235.1L95.2 234.1L91.8 234.5L91.0 235.0L85.0 237.1L84.3 239.8L86.7 246.6L94.5 246.6L97.7 240.7Z"/>
<path fill="#ffee22" d="M26.7 243.5L19.0 241.5L19.0 246.6L26.7 246.6Z"/>
<path fill="#33ff55" d="M97.4 224.6L95.5 227.0L95.2 234.1L96.7 235.1L103.7 232.8L103.2 227.3L97.7 224.5Z"/>
<path fill="#37ffc8" d="M118.3 236.4L123.0 235.2L122.5 226.4L117.4 224.0L113.1 227.6L112.3 232.4Z"/>
<path fill="#ffb060" d="M122.5 226.4L123.0 235.2L124.4 235.8L130.8 229.4L126.7 224.6Z"/>
<path fill="#33ff33" d="M125.6 237.0L126.7 246.6L134.0 246.6L134.0 237.0Z"/>
</g>
<g stroke="#201018" stroke-width="0.4" stroke-opacity="0.75" stroke-linejoin="round">
<path fill="#6aff9e" d="M155.6 48.0L157.7 46.1L158.8 43.9L160.5 38.9L160.6 37.9L160.5 37.5L160.1 37.5L159.3 38.1L157.9 39.4L154.0 43.8L152.6 45.7L152.1 47.1L152.4 47.8L154.4 48.0Z"/>
<path fill="#ff2222" d="M161.3 44.0L164.8 42.4L166.3 41.4L168.5 39.0L168.7 38.1L168.1 37.5L166.7 37.3L164.4 37.3L162.6 37.9L161.2 38.9L160.1 40.3L159.5 42.3L159.5 43.5L160.1 44.1ZM205.7 35.9L204.7 36.0L203.6 36.4L202.4 37.4L201.2 38.8L197.9 43.8L196.7 46.5L196.7 47.2L197.3 47.5L198.4 47.3L200.0 46.6L201.5 45.4L202.9 43.9L204.2 41.9L205.4 39.5L206.1 37.7L206.2 36.5ZM125.5 77.6L129.5 75.3L131.5 70.8L131.5 70.2L130.7 70.6L126.8 74.8L125.5 76.6L125.0 77.5ZM149.6 67.8L149.1 67.8L147.6 69.1L145.4 72.2L144.9 73.8L144.9 75.2L145.6 76.4L147.9 78.3L148.4 79.2L148.4 80.1L147.8 82.0L148.0 82.5L149.8 82.1L153.5 80.6L157.1 78.5L158.5 77.2L162.0 73.3L165.0 70.6L166.8 68.7L166.6 68.3L165.6 67.9L161.4 67.7L159.6 67.4L158.6 66.7L158.2 65.8L158.6 64.5L158.3 63.9L157.4 63.9L155.8 64.6L151.9 66.8ZM160.7 88.1L162.2 88.4L163.7 88.2L165.4 87.5L167.1 86.3L168.9 84.6L170.1 83.8L170.7 83.9L170.8 85.0L170.3 87.1L170.7 88.2L171.9 88.4L173.9 87.7L176.7 86.1L178.3 84.8L178.7 83.7L177.7 82.7L172.8 81.1L171.4 80.5L169.4 79.9L168.1 80.0L166.6 80.5L165.0 81.5L161.9 84.0L159.9 85.9L159.3 86.6L159.2 87.2L159.7 87.7ZM209.2 74.0L208.7 75.4L208.4 77.1L207.3 86.6L218.5 75.6L221.7 71.8L222.2 70.8L222.2 69.9L221.7 69.2L220.6 68.8L219.1 68.5L217.6 68.6L216.0 69.0L214.5 69.7L210.8 72.2ZM71.5 148.9L70.8 152.4L70.4 153.6L68.5 156.3L65.7 159.2L61.4 162.5L60.3 163.8L59.3 165.6L58.5 167.9L58.0 170.5L57.8 172.5L58.0 173.9L58.6 174.5L60.4 174.4L61.3 174.0L65.0 171.6L66.5 170.8L67.1 170.8L67.6 171.1L68.1 172.7L69.1 173.2L70.9 173.0L73.4 172.4L79.3 170.0L81.1 168.9L82.2 167.9L83.7 164.3L85.6 161.3L86.2 159.8L86.2 158.4L85.8 157.0L84.2 154.8L83.1 153.9L82.4 153.8L81.5 152.8L80.9 151.9L81.0 150.6L81.6 148.8L82.8 146.6L84.6 144.0L85.7 141.8L86.0 139.9L85.6 138.4L84.5 137.3L83.1 136.9L81.4 137.4L79.4 138.6L77.1 140.6L75.2 142.4L73.7 144.2L72.6 145.9ZM144.7 140.2L145.3 139.1L146.1 136.8L146.0 136.3L145.7 136.0L144.0 136.3L142.8 136.9L141.5 137.8L138.3 140.5L136.9 142.2L135.7 144.1L134.9 146.2L134.3 148.5L134.2 149.9L134.6 150.5L135.5 150.3L136.9 149.2L139.6 146.6ZM175.0 142.8L173.5 143.1L170.6 144.2L165.4 147.9L161.0 153.5L160.1 155.3L160.0 156.6L160.8 157.4L162.4 157.9L164.3 157.2L166.7 155.4L169.4 152.4L172.6 148.4L174.5 145.5L175.4 143.6ZM46.3 178.2L46.9 176.4L46.9 175.1L46.2 174.3L44.8 174.0L42.8 174.1L41.0 174.5L39.4 175.2L38.1 176.2L37.1 177.4L36.7 178.5L37.0 179.6L37.9 180.7L40.9 182.4L42.5 183.0L43.3 182.8L44.6 181.7ZM204.1 114.2L204.1 115.2L204.2 115.8L204.6 116.0L205.9 115.0L208.3 112.2L211.7 107.9L213.1 105.6L213.9 103.6L214.3 101.7L214.1 97.1L214.6 95.1L213.6 96.0L211.5 98.4L203.9 108.0L199.0 114.9L198.4 116.2L199.9 115.8L203.5 113.5L203.9 113.6ZM244.7 76.4L248.9 70.4L250.2 68.3L251.0 66.6L251.2 65.5L251.1 64.8L250.7 64.7L249.9 65.0L248.8 65.8L246.4 68.1L243.7 71.4L239.3 77.9L237.8 80.6L237.0 82.4L237.0 83.3L237.7 83.3L239.0 82.5L240.7 81.0ZM244.5 86.0L249.5 81.1L251.3 78.8L251.9 77.6L252.2 76.2L252.1 72.9L251.3 72.5L249.9 73.5L247.9 75.7L240.5 86.1L239.7 87.9L239.8 88.4L240.1 88.6L240.7 88.7L241.6 88.2ZM245.6 89.7L243.8 92.9L241.5 97.8L241.1 99.4L241.2 102.2L250.7 89.5L253.0 85.9L253.9 83.7L253.3 83.0L251.3 83.7L249.4 85.1L247.5 87.1ZM202.8 142.5L203.9 142.6L204.5 142.9L204.7 143.5L204.6 144.4L203.4 146.8L201.0 150.6L200.4 151.9L200.1 153.0L200.2 154.1L200.5 155.1L201.7 154.6L203.5 152.8L206.2 149.6L209.6 145.1L213.5 139.3L214.1 138.1L213.7 138.0L213.3 136.9L213.5 134.6L214.8 130.8L218.4 123.7L218.7 122.6L218.5 122.4L216.2 124.4L211.5 129.5L203.7 138.4L202.1 141.0L201.9 141.8L202.2 142.3ZM170.9 187.2L169.3 188.9L168.0 190.8L166.8 193.0L165.9 195.5L165.1 198.3L164.1 200.7L162.8 202.8L161.3 204.7L158.3 207.4L156.4 209.4L147.4 226.8L145.5 231.1L152.0 222.6L167.1 202.3L180.0 184.5L180.2 183.2L183.1 170.9L183.3 169.2L182.9 168.8L179.4 172.6L173.8 183.1ZM143.8 210.1L142.3 212.7L141.6 214.6L142.5 214.6L144.8 213.9L146.0 213.3L147.9 211.9L149.6 209.6L154.7 201.8L156.0 199.5L156.5 198.1L156.2 197.7L155.1 198.2L153.8 199.1L150.3 202.3L146.4 206.6ZM36.6 198.1L31.2 198.0L28.9 198.4L27.5 199.3L26.9 200.6L27.2 202.4L27.6 203.8L28.3 204.9L29.2 205.7L30.3 206.2L31.6 206.1L33.0 205.4L34.6 204.0L36.3 202.0L38.4 199.4L38.9 198.4ZM91.5 221.4L90.4 223.4L90.3 224.7L90.6 225.2L92.2 226.1L93.5 226.5L95.5 226.5L96.2 226.1L96.7 225.5L96.8 224.8L96.4 224.0L95.5 223.0L94.2 221.9L93.1 221.3L92.2 221.1Z"/>
<path fill="#2244ff" d="M146.2 52.6L143.3 56.0L141.5 58.8L140.8 60.8L141.2 62.3L142.8 63.1L143.7 64.0L143.7 65.2L143.0 66.5L141.5 68.0L140.6 69.5L140.1 71.0L140.2 72.6L141.3 75.2L141.8 75.8L142.3 75.9L143.5 74.7L146.6 70.5L148.5 68.3L149.1 67.8L149.6 67.8L151.9 66.8L158.7 62.8L168.2 55.3L169.3 51.5L169.2 50.4L168.5 49.6L167.4 49.3L165.8 49.4L164.7 49.0L164.2 48.1L164.3 46.7L165.0 44.9L165.0 43.7L164.4 43.1L163.2 43.2L159.8 44.8L157.7 46.1L157.1 46.7L156.8 47.6L156.7 48.9L157.1 52.3L156.8 54.2L155.9 56.0L154.3 57.9L148.2 62.6L147.9 62.4L147.9 61.5L148.7 58.7L149.6 56.9L153.1 51.4L153.9 49.8L154.0 48.6L153.5 48.0L152.4 47.8L150.8 48.5L148.7 50.2ZM212.9 122.2L210.9 124.4L207.4 129.3L205.9 131.9L202.9 138.6L204.0 137.7L208.2 133.1L211.5 129.5L213.9 126.4L215.5 124.0L216.2 122.0L216.1 120.7L215.5 120.3L214.5 120.8ZM41.6 240.3L39.9 240.8L38.7 241.5L37.9 242.3L37.6 243.4L37.7 244.7L38.5 245.6L40.0 246.3L42.2 246.6L45.0 246.6L46.8 246.2L47.6 245.3L47.3 244.0L46.0 242.2L44.6 241.0L43.1 240.4Z"/>
<path fill="#ff8050" d="M165.8 49.4L170.0 49.0L172.3 41.5L172.7 39.3L172.7 37.8L172.2 37.1L171.3 37.1L170.4 37.4L169.5 38.1L167.5 40.2L165.8 43.2L164.3 46.7L164.2 48.1L164.7 49.0ZM197.2 100.2L198.6 97.5L199.4 95.4L199.2 94.6L198.4 94.1L197.0 93.9L195.0 94.1L191.3 95.0L189.5 95.9L186.3 98.1L183.8 101.0L181.2 105.0L179.0 107.1L175.4 111.2L172.9 114.3L171.1 117.0L170.0 119.3L169.7 121.2L170.1 122.7L170.7 123.7L171.5 124.1L172.4 124.0L173.5 123.3L176.2 120.5L179.5 116.1L181.3 114.1L183.0 112.5L184.8 111.4L186.6 110.7L188.4 109.6L190.2 108.3L193.8 104.5ZM156.4 152.2L161.5 148.4L163.2 147.4L164.2 147.1L164.9 147.7L165.6 147.8L170.6 144.2L172.1 143.6L175.0 142.8L176.8 141.8L178.8 140.0L181.0 137.5L183.5 134.3L186.4 130.0L186.7 129.0L186.3 128.6L185.3 128.8L183.5 129.5L172.9 135.0L172.2 135.2L165.1 138.2L163.0 138.7L162.7 138.5L160.4 141.6L155.9 149.1L154.7 151.8L154.8 152.8Z"/>
<path fill="#ff5090" d="M174.6 45.1L180.0 40.5L181.7 38.9L183.0 37.4L182.6 37.1L181.5 36.9L177.3 36.9L175.2 37.7L173.5 39.2L172.3 41.5L171.4 44.5L171.5 46.1L172.6 46.3Z"/>
<path fill="#ff44aa" d="M171.7 53.4L176.0 51.0L178.8 48.6L180.3 46.2L180.9 44.7L181.7 41.3L181.2 40.6L179.9 41.0L177.7 42.5L169.9 49.1L168.9 53.0L169.1 53.8L170.1 53.9Z"/>
<path fill="#88ff22" d="M189.6 43.6L192.8 38.8L193.4 37.8L193.1 37.1L192.0 36.6L190.1 36.4L187.4 36.5L185.4 36.7L183.9 37.0L183.0 37.4L182.4 38.7L181.4 43.1L181.5 44.4L182.3 45.3L183.6 45.7L185.4 45.7L187.0 45.3L188.4 44.6Z"/>
<path fill="#ff6040" d="M193.4 37.8L190.6 42.3L189.6 43.6L188.4 44.6L187.0 45.3L185.4 45.7L183.6 45.7L182.0 46.0L180.7 46.6L179.6 47.5L178.8 48.6L178.1 50.0L177.3 53.7L177.3 57.5L177.5 58.5L177.9 58.8L179.0 58.3L179.9 58.4L180.2 58.6L182.7 58.4L187.5 57.1L189.6 56.2L191.3 55.1L192.4 54.0L194.1 50.6L196.2 47.5L197.9 43.8L201.2 38.8L201.6 37.4L201.1 36.5L199.7 36.1L197.5 36.2L195.7 36.5L194.3 37.0Z"/>
<path fill="#35fff6" d="M209.2 49.4L210.2 47.6L210.5 46.7L210.5 44.9L210.1 44.3L209.3 44.2L208.2 44.5L205.6 45.7L204.6 46.0L202.4 45.8L200.0 46.6L197.0 47.9L195.2 49.2L194.6 49.8L193.0 52.7L191.4 56.5L194.1 56.1L199.0 54.7L201.3 55.6L202.3 55.5L203.5 55.0L204.7 54.1L207.4 51.5Z"/>
<path fill="#ff4020" d="M149.0 62.1L154.3 57.9L155.9 56.0L156.8 54.2L157.1 52.3L156.5 49.1L155.9 47.8L154.2 49.8L149.6 56.9L148.2 60.1L147.9 62.4L148.2 62.6ZM109.6 106.6L107.6 108.6L106.5 109.1L105.1 109.2L103.6 108.7L101.9 107.7L99.8 107.9L97.3 109.3L94.5 111.7L91.3 115.4L88.9 118.5L87.3 121.2L86.5 123.3L86.5 124.9L87.5 125.8L89.5 126.0L92.5 125.4L99.5 123.3L102.5 122.6L102.7 123.0L105.4 124.1L106.7 124.1L108.1 123.9L109.7 123.3L111.5 122.4L113.4 121.0L115.5 119.2L117.6 117.0L123.3 110.2L121.8 110.2L118.3 110.9L116.9 110.6L116.0 109.8L115.6 108.3L115.8 106.3L115.6 104.9L114.9 104.2L113.8 104.2L112.3 104.9ZM154.8 122.4L155.5 117.3L145.9 123.6L139.8 127.9L139.5 128.3L139.5 129.1L139.8 130.2L141.2 133.8L142.1 135.2L143.0 136.1L144.0 136.3L145.9 135.6L147.7 134.3L150.4 131.1L152.6 127.9L153.6 126.2ZM35.7 197.7L41.9 185.6L42.9 183.0L40.1 184.3L35.4 187.0L33.2 188.7L31.4 190.5L30.0 192.5L29.1 194.7L28.8 196.4L29.3 197.5L30.6 198.0L34.0 197.9ZM140.7 206.1L144.4 202.7L147.8 198.5L150.5 194.3L151.1 193.0L151.0 192.4L150.4 192.3L148.8 193.0L146.7 194.9L145.4 196.5L140.5 204.1L139.7 205.9L139.7 206.6ZM126.7 212.5L126.2 215.6L125.5 216.6L124.3 217.5L122.7 218.2L118.9 219.4L117.3 220.1L117.3 222.7L117.7 223.5L118.4 224.2L119.3 224.9L121.8 225.8L123.0 225.9L124.1 225.7L126.0 224.9L127.0 224.1L127.2 223.7L127.5 221.6L127.9 221.0L128.7 220.3L131.6 219.0L132.8 217.2L133.6 214.4L134.0 210.5L134.0 205.5L133.7 201.7L133.1 199.2L132.3 198.0L131.1 198.0L129.9 198.5L128.8 199.5L127.6 201.0L126.4 202.9L125.6 204.8L125.3 206.6L125.4 208.4ZM35.0 234.0L35.1 236.2L35.7 239.3L36.1 240.2L36.7 240.7L37.5 241.0L39.9 240.8L41.6 240.3L43.0 239.5L44.1 238.5L45.0 237.2L45.6 235.7L45.8 234.2L45.6 233.0L44.9 231.8L43.7 230.9L42.4 230.2L40.9 229.9L39.3 229.9L37.5 230.2L36.1 231.0L35.3 232.2Z"/>
<path fill="#ff6080" d="M170.3 65.3L175.7 60.6L176.4 59.4L176.9 57.8L177.2 55.9L177.3 53.7L176.9 52.3L175.8 51.8L174.1 52.2L168.2 55.3L168.3 62.5L168.6 64.4L169.3 65.3Z"/>
<path fill="#bb88ff" d="M190.6 58.3L189.3 60.4L185.9 65.1L185.3 66.6L185.7 67.7L186.9 68.4L189.0 68.8L190.7 68.8L192.1 68.4L193.2 67.6L194.8 65.1L195.8 64.0L200.5 60.0L201.9 57.5L202.1 56.7L201.8 56.1L201.3 55.6L199.0 54.7L194.1 56.1L192.6 56.7L191.4 57.4Z"/>
<path fill="#ff3322" d="M138.4 70.9L143.0 66.5L143.7 65.2L143.7 64.0L142.8 63.1L141.2 62.3L139.9 61.8L138.9 61.7L138.1 62.0L137.6 62.5L137.2 63.4L136.9 64.7L136.7 68.1L136.2 69.8L135.3 71.3L134.0 72.5L129.3 75.5L129.3 77.1L129.8 80.2L130.5 82.2L131.0 82.4L131.5 82.1L132.2 81.3L137.8 71.7Z"/>
<path fill="#4eff4e" d="M132.3 73.5L134.0 72.5L135.3 71.3L136.2 69.8L136.7 68.1L136.8 66.2L136.5 65.1L136.0 64.8L135.3 65.2L134.2 66.4L133.2 67.8L131.5 70.8L130.8 72.5L130.7 73.5L131.2 73.9Z"/>
<path fill="#ff4040" d="M168.2 66.3L168.2 59.7L167.6 57.9L166.5 57.3L164.9 57.9L159.4 62.2L158.2 65.8L158.6 66.7L159.6 67.4L161.4 67.7L165.7 67.7L167.8 67.4L168.1 67.2ZM232.3 35.0L229.7 35.1L227.7 35.5L226.0 36.1L224.9 37.1L224.1 38.3L223.3 40.9L223.5 43.7L223.3 45.4L222.6 47.4L221.6 49.6L219.1 54.0L218.6 55.4L218.7 56.2L219.3 56.5L220.1 56.4L221.3 56.0L224.4 54.4L226.1 53.2L227.6 51.7L230.4 48.0L232.0 44.9L232.4 43.8L232.6 42.1L234.7 37.5L234.7 36.2L233.9 35.4Z"/>
<path fill="#ffef42" d="M189.3 60.4L191.5 56.3L189.5 56.6L184.8 57.9L181.2 58.7L180.2 58.6L179.4 58.3L178.4 58.5L176.5 59.8L172.7 63.4L168.1 67.2L167.9 67.4L167.9 68.0L169.2 71.8L169.5 73.4L169.5 74.8L169.2 76.2L168.6 77.5L168.4 78.6L168.7 79.4L169.4 79.9L170.6 80.2L171.9 79.8L173.5 78.6L175.3 76.7L180.4 70.0L183.0 68.5L184.7 66.5Z"/>
<path fill="#2233ff" d="M202.0 64.2L203.2 61.6L203.3 60.8L202.9 60.3L200.9 59.9L200.5 60.0L196.9 63.0L194.8 65.1L192.6 68.7L191.9 70.3L191.8 71.3L192.3 71.6L192.8 71.5L194.5 70.6L198.3 67.6L200.2 66.5ZM61.5 154.4L58.6 162.1L58.3 163.3L58.4 163.9L59.4 163.7L60.3 163.2L64.3 160.5L67.1 157.8L69.6 154.9L70.4 153.6L70.8 152.4L71.5 148.9L72.6 145.9L72.8 144.5L72.5 143.5L71.8 142.6L70.7 142.0L69.4 141.9L68.2 142.3L66.9 143.3L65.6 144.8L63.5 148.0L62.8 149.8ZM42.6 208.2L40.4 202.6L39.2 201.3L37.8 201.1L36.3 202.0L34.6 204.0L33.4 205.6L32.7 206.8L32.4 207.6L32.7 208.1L33.5 208.5L34.8 208.8L40.7 209.4L42.7 209.3L42.8 209.0ZM64.2 220.6L63.1 219.7L61.9 219.1L60.5 218.7L59.0 218.7L57.2 219.0L54.8 219.8L54.2 220.4L53.1 222.7L51.2 223.1L47.4 223.2L45.7 223.6L44.4 224.3L43.4 225.5L42.9 227.1L42.7 228.5L43.0 229.8L43.7 230.9L44.9 231.8L46.1 232.6L47.3 233.1L48.7 233.3L51.2 233.2L52.1 233.1L53.9 232.3L57.9 232.0L59.2 231.7L60.2 231.1L61.0 230.1L62.6 226.3L64.3 223.8L64.8 222.6L64.7 221.6ZM93.5 226.5L91.1 226.0L90.2 225.9L88.9 226.4L87.6 227.5L88.2 229.0L90.1 232.0L91.2 233.2L92.1 234.0L93.1 234.3L93.9 234.2L94.6 233.7L95.1 232.8L95.3 231.4L95.4 229.7L95.1 228.2L94.5 227.2Z"/>
<path fill="#ff50c0" d="M200.2 66.5L198.3 67.6L195.7 69.7L194.9 70.9L194.6 72.0L195.0 73.2L195.9 74.4L197.0 74.8L198.1 74.4L199.3 73.2L200.6 71.1L201.5 69.5L201.9 68.2L201.9 67.4L201.0 66.7Z"/>
<path fill="#44e6ff" d="M183.3 68.2L182.2 69.1L180.4 70.0L172.3 80.9L177.7 82.7L180.6 83.6L181.5 83.7L188.0 76.1L191.8 70.9L191.9 70.3L191.5 69.8L190.5 69.3L186.9 68.4L184.1 68.1Z"/>
<path fill="#b649ff" d="M207.4 64.2L203.7 67.4L202.1 69.2L199.3 73.2L197.6 76.1L197.1 77.3L197.4 77.4L198.2 76.9L199.6 76.1L201.4 74.8L203.1 73.3L204.7 71.3L206.3 69.1L210.3 62.1Z"/>
<path fill="#49ff49" d="M203.2 45.8L203.8 46.0L204.6 46.0L205.6 45.7L208.2 44.5L209.6 43.5L210.9 42.2L212.1 40.5L213.2 38.6L213.5 37.1L213.1 36.1L212.0 35.7L210.1 35.8L208.4 36.4L206.8 37.6L205.4 39.5L204.2 41.9L203.5 43.7L203.1 45.0ZM160.4 113.1L165.4 107.5L166.6 105.5L167.3 103.7L167.5 102.0L167.2 100.5L166.8 99.3L166.2 98.5L165.5 98.0L163.0 98.0L161.0 99.3L156.1 100.7L154.8 101.3L151.2 104.0L149.7 104.7L146.3 105.7L144.7 106.7L143.4 108.3L142.3 110.5L140.7 115.5L139.2 118.2L137.4 119.2L136.3 119.2L135.5 119.5L130.0 123.1L128.9 123.5L128.0 123.4L127.4 122.9L126.6 122.7L125.6 123.0L124.4 123.6L120.9 126.0L118.7 128.1L114.2 131.7L114.4 134.3L115.3 139.7L116.1 141.6L117.3 142.2L118.9 141.6L122.5 138.3L125.2 136.3L127.7 135.1L128.6 135.2L130.1 134.8L135.1 131.9L138.3 129.4L140.9 127.0L155.8 117.1ZM59.8 151.4L57.2 154.3L55.5 156.9L54.6 159.1L54.4 161.0L55.7 163.7L56.3 164.4L56.8 164.6L57.2 164.3L58.4 162.2L61.3 155.0L62.8 149.8L62.6 149.1L61.6 149.7ZM48.6 171.9L48.0 167.9L47.3 167.2L46.1 167.5L44.6 168.8L42.6 171.0L41.7 172.7L41.7 173.7L42.8 174.1L44.8 174.0L46.4 173.7L48.3 173.1ZM95.8 169.3L93.0 172.7L92.4 174.3L92.6 175.6L93.6 176.5L95.5 177.1L97.1 176.9L98.3 176.0L99.3 174.2L99.9 171.7L100.1 169.8L99.9 168.6L99.3 167.9L98.3 167.8L97.1 168.3ZM44.0 192.6L35.7 197.7L37.4 197.9L41.9 198.0L44.0 197.5L45.7 196.5L46.9 194.9L47.7 192.9L47.4 191.8L46.2 191.7ZM86.0 184.0L83.4 187.0L82.1 189.3L81.8 190.2L81.8 191.8L82.4 193.4L83.1 193.6L84.0 193.4L85.2 192.6L88.0 190.0L91.1 186.6L91.5 185.6L91.4 184.6L90.8 183.7L89.7 182.8L88.6 182.6L87.3 183.0ZM209.8 117.8L205.7 124.3L205.3 125.2L205.8 125.9L206.2 125.8L210.4 121.8L212.9 119.2L214.7 117.0L215.7 115.3L215.9 113.9L214.8 112.2L214.3 112.0L213.8 112.2ZM139.3 223.7L135.6 228.6L134.5 230.4L134.0 232.0L134.0 233.1L134.6 233.2L135.9 232.3L140.3 227.3L144.7 221.7L145.2 220.4L145.0 220.0L143.7 219.8L142.6 220.4ZM47.5 200.9L47.7 202.9L47.5 204.5L47.0 205.8L46.1 206.8L43.9 208.1L42.7 209.3L42.0 209.4L36.6 209.1L34.8 209.4L33.5 210.2L32.7 211.5L32.4 213.3L32.5 214.8L33.1 216.0L34.2 216.8L35.6 217.3L36.5 218.4L36.7 220.1L36.2 222.5L34.0 229.3L34.0 230.2L34.3 230.4L36.0 230.4L39.3 229.9L40.8 229.3L42.0 228.3L42.9 227.1L43.4 225.5L43.7 224.0L43.7 222.5L43.5 221.0L42.6 218.4L42.5 217.3L42.6 216.5L43.0 215.9L43.7 215.5L45.0 215.2L48.8 215.0L50.6 214.6L52.0 213.8L53.1 212.5L53.8 210.9L54.8 209.7L56.0 209.0L57.6 208.7L61.1 209.1L62.3 209.0L63.3 208.7L64.0 208.3L64.5 207.4L64.9 206.0L65.3 201.6L64.3 199.8L62.0 198.6L58.6 198.0L54.0 198.0L50.6 198.5L48.4 199.5ZM85.1 203.3L85.5 200.0L84.9 199.0L83.7 198.3L81.7 198.0L79.0 198.0L77.2 198.6L76.1 199.9L75.9 201.8L76.5 204.4L77.4 206.1L78.5 206.9L79.9 206.9L82.9 205.4L84.5 204.3ZM98.4 218.2L97.5 217.0L96.6 216.4L95.6 216.2L94.6 216.5L93.6 217.3L92.4 218.6L92.2 219.2L92.2 219.6L93.2 221.0L97.5 224.6L99.0 221.7L99.1 220.5L98.9 219.4ZM81.6 240.1L79.8 240.3L78.4 240.9L77.5 241.7L76.9 242.9L76.8 244.4L77.4 245.5L78.6 246.2L80.4 246.6L82.9 246.6L84.6 246.2L85.6 245.3L85.8 244.1L85.2 242.4L84.3 241.1L83.1 240.4Z"/>
<path fill="#fff633" d="M210.5 44.9L210.6 45.8L210.9 46.4L211.6 46.8L212.6 46.8L213.8 46.6L216.8 45.1L220.3 42.4L223.1 39.6L224.9 37.1L224.7 36.2L223.7 35.6L221.8 35.4L219.0 35.5L216.6 36.0L214.7 37.1L213.2 38.6L212.1 40.5L211.2 42.2Z"/>
<path fill="#ff1a2a" d="M234.7 37.5L233.0 40.8L232.4 43.1L232.4 43.8L231.4 46.3L229.0 50.0L227.6 51.7L226.1 53.2L224.4 54.4L221.3 56.0L220.1 56.4L219.3 56.5L218.0 56.2L217.1 56.4L215.0 57.4L211.8 59.4L211.1 59.4L208.5 58.8L206.6 59.2L204.6 60.6L203.7 61.5L202.0 64.2L201.5 65.4L201.3 66.3L201.4 67.0L201.9 67.4L202.7 67.3L203.9 66.8L210.3 62.1L206.3 69.1L205.5 71.0L205.5 72.4L206.1 73.1L208.6 73.3L210.0 73.0L211.7 71.6L214.5 69.7L216.0 69.0L217.6 68.6L219.1 68.5L223.1 69.0L226.6 61.2L228.2 58.5L230.1 56.1L232.3 54.1L234.7 52.4L236.5 51.6L237.6 51.8L238.0 52.9L237.7 54.9L237.9 56.4L238.5 57.3L239.5 57.8L241.0 57.7L243.2 56.2L246.2 53.2L250.0 48.8L254.6 42.9L256.5 38.5L255.6 35.6L252.0 34.3L245.6 34.5L240.6 35.2L237.0 36.1Z"/>
<path fill="#49ff37" d="M223.5 43.7L223.3 42.3L222.7 41.6L221.7 41.7L220.3 42.4L218.5 43.9L215.2 46.0L211.5 47.2L210.5 47.8L207.4 51.5L202.6 56.5L201.5 58.4L201.4 59.1L201.6 59.6L202.1 60.0L203.7 60.3L204.6 60.1L207.6 58.9L208.5 58.8L211.1 59.4L211.8 59.4L216.1 56.8L217.4 55.7L218.7 54.1L221.6 49.6L222.6 47.4L223.3 45.4Z"/>
<path fill="#ff8020" d="M228.5 65.7L234.2 60.8L235.8 58.8L237.0 56.9L237.7 54.9L238.0 52.9L237.6 51.8L236.5 51.6L234.7 52.4L232.3 54.1L230.1 56.1L228.2 58.5L226.6 61.2L225.3 64.2L224.7 66.3L224.7 67.4L225.5 67.6L226.9 66.8ZM191.5 140.5L191.2 140.2L190.6 140.2L189.6 140.6L184.8 143.5L184.4 143.7L184.0 143.2L182.0 144.6L177.9 148.1L174.3 152.0L173.0 153.8L172.1 155.6L171.9 156.4L172.5 156.5L173.9 155.7L176.1 154.0L177.6 153.3L178.2 153.4L178.1 154.4L177.1 156.3L176.7 157.7L176.6 158.4L177.0 158.6L177.9 158.2L180.0 156.9L183.0 153.4L190.6 143.0L191.6 141.5ZM96.5 242.9L95.7 244.4L95.7 245.5L96.4 246.2L98.0 246.6L100.3 246.6L102.1 246.4L103.4 246.0L104.0 245.4L104.2 244.0L103.9 242.9L103.1 242.1L102.3 241.8L99.8 241.1L98.6 241.3L97.5 241.9Z"/>
<path fill="#ff60b0" d="M234.2 60.8L232.1 62.7L230.7 64.3L230.0 65.6L229.9 66.6L230.4 67.3L231.2 67.7L232.1 67.7L233.2 67.5L234.6 66.9L236.0 65.9L237.5 64.6L240.7 60.8L241.5 59.2L241.6 58.2L241.0 57.7L239.5 57.8L237.9 58.3L236.1 59.3Z"/>
<path fill="#ff52c5" d="M226.9 66.8L223.1 69.0L221.7 71.8L220.5 73.5L215.9 78.3L212.6 81.6L210.8 84.1L210.6 86.0L211.9 87.3L214.7 87.9L217.6 87.3L220.5 85.7L223.4 83.0L226.3 79.2L228.6 76.0L230.1 73.5L230.9 71.6L231.1 70.3L230.8 68.1L229.9 66.6L229.1 66.3L228.1 66.4Z"/>
<path fill="#49ff5b" d="M122.7 87.9L124.4 87.2L127.1 85.8L129.0 84.1L129.5 83.1L129.8 81.8L129.8 80.2L129.5 78.4L128.9 77.3L128.1 76.8L126.9 76.9L125.5 77.6L123.5 78.9L122.5 79.7L121.8 81.8L120.9 85.6L121.0 87.1L121.6 87.8Z"/>
<path fill="#ee55ff" d="M147.0 77.4L144.5 75.7L143.6 75.4L142.9 75.5L141.6 76.6L138.3 80.3L137.3 81.9L136.5 83.7L136.0 85.6L135.6 89.0L135.7 90.0L135.9 90.5L136.3 90.4L138.8 88.7L143.5 85.1L145.6 83.4L148.1 80.9L148.4 80.1L148.4 79.2L147.9 78.3Z"/>
<path fill="#a449ff" d="M140.7 74.1L139.7 71.5L139.2 70.8L138.8 70.6L137.8 71.7L134.4 77.8L133.6 79.8L133.4 81.2L133.8 82.0L134.8 82.2L135.9 82.0L137.1 81.4L138.3 80.3L139.6 78.8L140.5 77.2L140.8 75.7Z"/>
<path fill="#ffc040" d="M166.9 68.7L166.4 69.2L164.9 72.7L162.6 79.3L162.1 81.7L162.3 82.9L163.3 82.8L166.5 80.1L167.7 78.8L169.2 76.2L169.5 74.8L169.5 73.4L169.2 71.8L167.9 69.1L167.4 68.6Z"/>
<path fill="#aaffee" d="M162.0 73.3L158.5 77.2L157.5 78.9L156.7 80.9L156.2 83.1L155.8 85.7L155.7 88.7L155.9 89.3L157.1 88.8L158.3 87.7L159.9 85.9L160.6 84.4L163.8 75.6L164.5 73.1L164.6 71.7L164.2 71.4Z"/>
<path fill="#1224ff" d="M119.8 89.5L120.2 88.5L121.4 83.5L121.1 82.6L120.2 82.8L118.6 84.2L116.3 86.9L114.9 88.8L114.4 90.2L114.7 90.9L117.0 91.0L118.4 90.7Z"/>
<path fill="#ffb030" d="M114.0 95.9L115.5 94.0L116.3 92.6L116.5 91.6L116.0 91.0L114.7 90.9L113.4 91.3L111.9 92.2L110.4 93.6L108.7 95.5L107.8 97.0L107.6 98.0L108.2 98.5L109.6 98.6L111.0 98.2L112.5 97.3ZM207.7 82.3L208.1 79.4L207.9 77.5L207.3 76.7L206.1 76.9L202.9 79.2L200.4 80.5L199.3 80.8L198.5 80.8L197.8 80.6L197.3 80.2L197.1 79.5L196.4 79.3L195.5 79.6L192.7 81.5L191.0 82.5L189.4 83.2L187.7 83.6L184.6 83.8L181.8 83.4L179.0 87.6L178.0 89.3L176.4 93.4L175.7 95.7L175.6 97.4L176.2 98.2L177.3 98.4L181.9 97.3L183.8 97.4L184.8 97.8L185.2 98.2L186.5 97.6L189.5 95.9L191.3 95.0L193.1 94.5L198.8 93.6L200.4 92.9L201.8 92.1L206.2 87.7L206.8 86.5Z"/>
<path fill="#ff6070" d="M131.5 82.1L130.4 82.9L127.1 85.8L125.8 86.5L120.0 89.2L117.7 91.4L114.0 95.9L111.7 99.6L111.0 101.4L110.6 103.2L110.7 104.4L111.2 105.0L112.3 104.9L115.1 103.5L116.3 102.8L120.0 99.8L122.6 98.2L124.9 97.3L126.8 97.2L127.9 96.8L130.8 94.7L132.6 93.1L134.0 91.3L135.1 89.5L135.7 87.6L136.0 85.6L135.9 84.0L135.5 82.9L134.8 82.2L132.9 81.9Z"/>
<path fill="#8877ff" d="M155.8 85.7L156.2 83.1L155.9 81.4L155.0 80.6L153.5 80.6L149.8 82.1L148.6 82.4L148.0 82.5L147.8 82.3L147.0 82.7L137.2 89.8L135.2 90.9L130.8 94.7L129.1 96.8L127.6 99.2L126.3 102.0L123.6 109.2L123.3 110.0L123.4 110.2L123.9 110.5L125.0 110.2L127.0 109.4L128.5 108.4L130.2 107.0L134.6 102.7L136.7 100.8L138.8 99.5L140.7 98.6L143.9 97.8L145.9 96.7L147.4 95.2L152.3 91.5L153.9 89.9L155.1 87.9Z"/>
<path fill="#55aaff" d="M170.3 87.1L170.8 85.0L170.7 83.9L170.1 83.8L168.9 84.6L167.1 86.3L165.4 87.5L163.7 88.2L162.2 88.4L159.5 88.0L157.9 88.2L152.3 91.5L147.4 95.2L145.9 96.7L145.3 97.7L143.5 102.4L142.5 104.4L141.0 106.3L139.2 108.3L136.9 110.4L135.3 112.2L134.4 114.0L134.2 115.6L135.2 118.1L135.7 118.8L136.3 119.2L137.4 119.2L139.2 118.2L140.7 115.5L142.3 110.5L143.4 108.3L144.7 106.7L146.3 105.7L149.7 104.7L151.2 104.0L154.8 101.3L156.1 100.7L161.0 99.3L163.0 98.0L167.2 93.0L168.5 91.0L169.6 89.1Z"/>
<path fill="#5bff37" d="M107.6 108.6L109.4 106.3L110.6 103.2L111.0 101.4L111.0 100.0L110.5 99.1L109.6 98.6L108.2 98.5L106.8 98.9L105.3 99.9L103.6 101.3L101.9 103.3L101.0 105.0L101.0 106.5L101.9 107.7L103.6 108.7L105.1 109.2L106.5 109.1ZM246.4 59.9L250.1 57.4L251.1 56.4L255.5 49.0L256.4 47.0L256.6 45.7L256.1 45.0L254.8 45.0L253.7 45.2L252.6 45.9L251.5 46.8L250.5 48.1L248.4 51.8L245.9 57.1L245.4 59.0L245.5 59.9Z"/>
<path fill="#ff3050" d="M125.1 105.1L127.0 99.6L127.1 98.0L126.8 97.2L124.9 97.3L122.6 98.2L118.9 100.6L117.2 102.0L116.6 103.1L115.8 106.3L115.6 108.3L116.0 109.8L116.9 110.6L118.3 110.9L120.3 110.5L122.1 109.4L123.7 107.6Z"/>
<path fill="#88ff44" d="M142.4 98.3L140.7 98.6L138.8 99.5L136.7 100.8L134.6 102.7L132.2 105.1L130.8 107.2L130.2 109.0L130.4 110.5L131.6 111.7L133.0 112.1L134.7 111.7L136.8 110.4L139.1 108.4L141.0 106.3L142.5 104.4L143.5 102.4L144.1 100.6L144.2 99.2L143.6 98.5Z"/>
<path fill="#aa33ff" d="M172.3 101.8L169.5 103.5L166.9 105.8L162.0 111.5L157.6 115.6L156.5 117.0L155.6 118.6L155.1 120.4L154.8 122.4L154.9 123.8L155.4 124.6L156.4 124.9L159.2 124.0L162.3 122.2L164.0 120.9L165.3 119.5L166.4 118.1L167.2 116.6L168.3 113.5L169.1 112.2L170.8 110.0L173.3 108.4L179.2 106.4L180.6 105.7L182.8 102.6L184.5 99.7L185.2 98.2L184.8 97.8L183.8 97.4L181.9 97.3L177.3 98.4L174.6 99.7ZM140.1 150.7L139.6 149.5L139.0 148.8L138.0 148.7L136.9 149.2L132.4 152.8L127.5 157.2L126.4 158.1L124.2 159.1L123.3 159.8L119.7 163.1L116.4 165.3L112.9 167.1L111.0 168.5L110.7 169.0L110.5 170.0L110.6 171.5L111.2 176.0L111.8 177.7L112.8 178.6L113.9 178.7L115.4 178.0L117.9 177.4L118.9 177.5L121.3 178.0L122.0 177.9L123.3 176.2L125.4 172.7L127.0 170.6L129.0 168.5L136.5 162.3L139.0 159.7L139.5 157.6L139.3 156.2L139.4 154.8L140.1 153.5L140.3 152.7Z"/>
<path fill="#ff49ff" d="M183.6 83.8L187.7 83.6L189.4 83.2L191.0 82.5L192.7 81.5L196.7 78.3L197.2 76.9L196.6 75.5L195.0 73.2L193.4 71.8L192.8 71.5L192.3 71.6L189.9 73.9L183.8 81.2L182.8 82.7L182.5 83.5ZM23.9 193.1L22.4 194.2L20.5 196.2L20.3 197.1L20.9 197.7L22.2 198.0L24.4 198.0L25.8 197.7L26.4 197.1L26.4 196.1L25.5 194.9L24.3 193.3ZM145.0 225.2L143.8 228.1L143.8 229.1L144.0 229.7L144.6 230.1L145.7 229.0L147.3 226.6L149.4 222.8L153.4 214.7L153.5 213.7L152.4 214.8L149.9 218.0L147.8 220.8Z"/>
<path fill="#aa88ff" d="M196.8 78.2L196.9 79.0L197.3 80.2L197.8 80.6L198.5 80.8L199.3 80.8L200.4 80.5L201.6 80.0L204.5 78.2L208.4 75.0L209.2 74.0L209.1 73.7L208.5 73.4L207.5 73.2L206.1 73.1L204.6 73.4L203.1 73.9L201.4 74.8Z"/>
<path fill="#ff5030" d="M181.3 83.7L173.9 87.7L171.3 89.4L169.1 91.2L167.2 93.0L165.6 94.9L164.7 96.4L164.3 97.4L164.6 98.0L165.5 98.0L166.8 97.6L170.8 95.0L173.4 93.0L177.5 89.3L179.0 87.6ZM108.4 147.1L107.4 144.8L106.2 143.4L104.6 143.1L102.8 143.7L99.2 146.5L97.5 147.4L96.9 147.1L96.1 146.9L93.3 146.7L91.7 147.1L90.0 148.0L88.2 149.3L86.4 151.1L85.2 152.8L84.7 154.4L84.9 155.8L85.8 157.0L86.2 158.4L86.2 159.8L85.6 161.3L83.7 164.3L82.5 166.8L81.9 168.8L81.7 171.2L82.5 171.2L84.1 170.5L92.2 165.4L94.1 164.3L95.4 163.7L96.0 163.6L96.9 163.1L99.3 160.6L102.5 156.9L105.8 153.8L107.4 152.5L108.4 151.0L108.8 149.1ZM138.3 200.0L144.2 192.1L146.1 189.0L147.6 186.1L148.8 183.3L149.6 180.6L149.1 179.9L147.4 181.2L144.4 184.6L140.3 189.9L137.1 194.4L135.0 197.9L134.0 200.5L134.0 202.2L134.3 203.2L134.9 203.4L135.7 202.9ZM163.6 177.0L162.2 178.7L157.0 186.1L154.7 190.0L154.6 190.9L155.2 190.9L155.5 191.5L155.4 192.5L154.4 196.0L154.2 197.3L154.5 198.1L155.1 198.2L157.2 197.1L159.7 194.9L161.7 191.3L166.6 179.6L168.5 176.4L168.8 175.6L168.5 175.1L167.7 175.1L165.2 176.0ZM172.7 179.6L180.0 171.9L180.5 169.9L180.5 168.6L180.3 167.1L179.7 166.4L178.9 166.5L177.7 167.3L176.2 168.9L174.8 170.8L173.5 173.1L171.0 178.7L170.7 180.4L171.3 180.7Z"/>
<path fill="#ff2121" d="M207.4 86.5L201.8 92.1L200.0 94.3L197.2 100.2L197.1 101.4L197.4 103.0L198.0 104.9L200.5 110.3L200.9 110.9L201.2 111.0L204.7 106.9L212.4 97.1L215.0 92.8L215.7 89.7L214.7 87.9ZM137.4 169.0L135.8 170.8L133.9 172.4L131.7 173.8L129.3 175.1L122.5 177.8L114.6 193.0L112.9 197.9L120.4 198.0L123.1 197.4L125.5 196.3L127.6 194.5L129.3 192.2L131.0 190.8L132.7 190.1L134.3 190.3L135.8 191.3L137.5 191.2L139.5 190.2L141.7 188.1L144.2 184.9L145.2 182.8L145.0 181.7L143.3 181.7L140.3 182.6L138.3 182.9L137.4 182.3L137.6 181.0L140.0 177.0L145.3 170.2L146.3 168.6L147.1 167.0L148.3 164.2L148.6 162.8L148.5 162.1L149.6 158.4L149.6 157.2L149.0 154.6L148.9 153.0L149.1 151.4L151.0 145.0L147.6 147.0L142.9 150.4L141.5 151.7L139.7 154.1L139.3 155.5L139.5 158.3L138.9 160.6L138.9 161.7L139.4 164.3L139.2 165.7L138.6 167.3Z"/>
<path fill="#46ff35" d="M193.4 113.5L196.2 112.4L198.1 111.0L199.1 109.3L199.0 107.3L198.0 104.9L196.8 103.7L195.4 103.5L193.8 104.5L192.0 106.5L190.7 108.4L189.7 110.1L189.3 111.7L189.2 113.0L189.9 113.8L191.3 113.9Z"/>
<path fill="#ff33ff" d="M176.6 107.3L173.3 108.4L171.9 109.1L170.8 110.0L169.9 111.1L168.3 113.5L167.2 116.6L167.0 117.7L167.1 118.5L167.5 118.9L168.1 118.9L169.2 118.1L172.9 114.3L175.4 111.2L176.9 109.0L177.3 107.7ZM31.3 188.7L31.1 188.4L30.6 188.5L29.7 188.9L26.8 191.1L25.8 192.3L25.3 193.6L25.5 194.9L26.4 196.1L27.2 196.5L28.1 196.0L29.0 194.7L30.7 190.8ZM120.5 151.5L115.0 154.9L113.1 156.4L112.0 157.7L111.1 160.0L111.0 161.5L111.3 165.0L111.9 166.1L113.0 166.5L114.5 166.3L118.1 164.2L121.1 162.0L122.3 160.8L123.3 159.2L124.0 157.4L124.6 155.2L125.3 148.8Z"/>
<path fill="#92ff37" d="M167.2 100.5L167.5 102.0L168.0 103.0L168.7 103.5L169.5 103.5L170.5 103.0L173.0 101.1L174.4 99.2L175.0 97.7L176.4 93.4L176.3 92.2L175.3 92.0L173.4 93.0L170.8 95.0L168.8 97.0L167.7 98.8Z"/>
<path fill="#4937ff" d="M231.1 70.3L230.9 71.6L231.2 72.1L231.9 71.8L233.0 70.7L235.2 67.6L235.2 66.9L234.6 66.9L233.2 67.5L232.2 68.2L231.5 69.1Z"/>
<path fill="#ff37ff" d="M127.0 109.4L125.9 109.8L124.8 111.2L123.8 113.3L122.9 116.3L122.1 120.2L121.8 122.9L122.1 124.3L123.0 124.5L125.9 122.3L129.1 118.9L130.7 116.7L131.7 114.8L132.0 113.1L131.6 111.7L130.4 110.5L129.3 109.7L128.2 109.3ZM193.4 128.1L199.3 123.7L203.1 117.8L204.1 115.2L204.1 114.2L203.9 113.6L203.5 113.5L202.7 113.9L201.7 114.7L198.5 118.5L196.4 121.4L193.8 125.0L192.5 127.4L192.4 128.4ZM141.0 198.6L142.6 197.8L145.4 195.9L147.8 193.8L149.0 192.2L151.7 187.8L153.2 185.0L153.8 183.3L153.6 182.7L152.5 183.2L148.5 186.9L144.2 192.1L142.0 195.2L140.7 197.3L140.4 198.4ZM138.7 219.8L134.5 227.4L134.0 228.7L134.0 229.3L134.5 229.1L135.6 228.1L141.2 221.3L145.2 215.6L145.7 214.5L145.6 213.9L144.8 213.9L143.5 214.3L142.0 215.5L140.4 217.3ZM104.7 226.0L106.4 224.2L106.9 223.4L107.0 222.6L106.1 219.5L105.6 219.2L104.7 219.1L102.0 219.6L100.7 220.1L99.7 220.8L99.0 221.7L98.5 222.8L98.4 223.8L98.9 224.8L99.8 225.6L101.1 226.3L102.4 226.6L103.6 226.5Z"/>
<path fill="#ff6030" d="M133.4 113.5L129.1 118.9L128.0 120.6L127.4 122.0L127.4 122.9L128.0 123.4L128.9 123.5L130.0 123.1L131.4 122.3L133.0 121.1L134.1 119.8L134.7 118.4L134.7 117.0Z"/>
<path fill="#99ff44" d="M86.5 124.9L86.5 123.3L85.4 123.3L83.2 125.0L79.9 128.4L75.5 133.5L72.5 137.4L70.9 140.2L70.7 142.0L71.8 142.6L73.3 142.6L75.0 141.9L77.1 140.6L79.4 138.6L81.4 137.4L83.1 136.9L84.5 137.3L85.6 138.4L86.7 139.1L87.6 139.5L88.5 139.4L89.4 138.9L92.2 136.8L94.5 134.4L99.7 127.3L102.6 122.7L102.5 122.6L101.5 122.7L92.5 125.4L89.5 126.0L87.5 125.8ZM115.4 178.0L112.5 179.5L110.9 180.6L104.9 185.7L100.1 193.4L99.1 195.7L99.0 197.2L99.8 198.0L101.4 198.0L102.9 197.7L104.2 197.0L105.4 196.0L109.8 190.3L116.8 182.9L118.8 180.4L119.8 178.7L119.9 177.7L118.9 177.5L117.9 177.4Z"/>
<path fill="#aa44ff" d="M122.1 120.2L123.5 113.4L123.8 111.5L123.9 110.5L123.7 110.4L121.7 112.3L115.5 119.2L113.4 121.0L111.5 122.4L108.1 123.9L106.7 124.1L105.4 124.1L102.7 123.0L97.8 130.1L96.5 132.5L96.1 134.4L96.4 135.9L97.5 136.8L98.8 137.1L100.2 136.8L101.8 135.7L103.5 134.0L105.1 132.9L106.6 132.4L108.0 132.5L110.4 133.6L111.4 133.7L112.2 133.4L120.3 126.5ZM136.4 210.3L142.3 201.1L143.2 199.0L143.3 197.9L142.6 197.8L139.5 199.5L138.1 200.5L135.7 202.9L134.9 204.3L134.3 206.0L134.0 207.9L134.0 210.0L134.2 211.3L134.7 211.8L135.5 211.4ZM19.0 235.8L19.0 238.0L19.5 239.9L20.4 241.3L21.9 242.2L25.3 243.1L26.9 243.1L27.1 242.9L27.0 242.1L25.5 236.5L24.6 234.7L23.6 233.4L22.4 232.7L21.0 232.6L20.0 233.0L19.3 234.1Z"/>
<path fill="#ff33aa" d="M103.5 134.0L101.8 135.7L100.2 136.8L98.8 137.1L97.5 136.8L96.4 135.9L95.4 135.4L94.3 135.4L93.2 135.9L91.2 137.6L88.5 139.4L86.1 141.9L84.6 144.0L82.8 146.6L81.6 148.8L81.0 150.6L80.9 151.9L82.0 153.4L82.4 153.8L83.1 153.9L84.9 152.5L88.2 149.3L90.0 148.0L91.7 147.1L93.3 146.7L96.1 146.9L96.9 147.1L97.5 147.4L98.1 147.2L100.7 145.3L104.7 142.1L107.9 138.7L109.2 136.9L109.9 135.5L109.9 134.2L109.3 133.2L108.0 132.5L106.6 132.4L105.1 132.9Z"/>
<path fill="#3355ff" d="M110.6 150.3L111.6 149.7L113.3 147.8L114.4 146.4L115.1 144.6L115.4 142.4L115.3 139.7L114.8 136.6L114.2 134.4L113.6 133.2L112.9 132.9L111.4 134.3L107.9 138.7L107.2 140.6L107.0 142.6L107.4 144.8L109.3 148.8L110.0 149.9Z"/>
<path fill="#44aaff" d="M128.6 135.2L127.7 135.1L127.1 135.4L125.2 136.3L124.0 137.2L118.9 141.6L115.7 144.9L113.3 147.8L112.6 149.3L112.2 150.7L112.1 152.2L112.4 153.7L113.3 154.4L115.0 154.3L117.4 153.3L120.5 151.5L123.1 149.3L125.2 146.7L126.7 143.7L128.3 137.9L128.6 136.1ZM217.3 115.0L210.4 121.8L208.6 123.8L207.5 125.4L207.1 126.4L207.4 127.0L208.1 126.9L209.3 126.0L210.9 124.4L214.6 120.2L216.6 117.2L217.3 115.5ZM162.8 170.5L159.4 175.4L159.3 175.9L159.6 176.5L160.2 177.0L161.9 177.8L162.6 177.8L163.1 177.5L164.6 175.7L170.3 166.9L171.5 164.5L171.5 163.5L170.3 164.0L167.9 165.8L164.2 169.1ZM180.3 167.1L180.5 168.6L180.8 169.5L181.4 169.9L182.0 169.6L186.5 164.7L190.4 159.7L191.6 157.5L191.7 156.8L191.2 156.3L190.3 156.0L187.9 156.1L186.9 156.3L185.5 157.2L183.9 159.2L181.7 162.3L180.9 164.0L180.4 165.6Z"/>
<path fill="#ffc0e0" d="M141.2 133.8L140.3 131.8L139.4 130.6L138.4 130.0L137.4 130.1L133.8 132.7L131.2 134.2L129.9 135.6L128.7 137.7L127.7 140.4L125.3 148.8L135.3 142.9L139.9 139.0L141.0 137.4L141.4 135.7Z"/>
<path fill="#ff33dd" d="M134.3 148.5L135.2 144.5L135.3 142.9L128.8 146.7L127.0 148.4L125.7 150.4L124.9 152.7L124.6 155.2L124.5 157.0L124.6 158.2L124.9 158.7L126.4 158.1L130.8 154.3L132.2 152.5L133.4 150.6ZM192.9 142.7L192.2 142.6L191.0 143.4L187.4 147.5L184.9 150.8L183.3 153.3L182.5 155.1L182.6 156.2L183.5 156.4L184.7 155.8L186.3 154.2L188.3 151.6L192.1 145.4L192.9 143.6Z"/>
<path fill="#77ff22" d="M192.6 122.6L198.8 114.6L201.2 111.0L200.0 111.1L193.4 113.5L191.3 113.9L189.9 113.8L189.2 113.0L189.3 111.7L188.8 110.8L188.0 110.5L186.6 110.7L184.8 111.4L183.0 112.5L181.3 114.1L179.5 116.1L177.8 118.5L174.8 122.1L171.0 125.1L169.4 126.8L163.7 133.4L161.8 135.9L161.7 136.5L162.2 137.9L163.0 138.7L165.1 138.2L173.7 134.6L183.5 129.5L185.3 128.8L186.3 128.6L186.7 129.0L187.9 128.1Z"/>
<path fill="#aa99ff" d="M170.1 122.7L169.2 120.0L168.7 119.3L168.1 118.9L167.5 118.9L165.4 119.9L160.7 123.2L159.2 124.0L156.4 124.9L155.1 125.6L153.8 126.6L152.6 127.9L149.4 132.4L147.0 135.1L146.5 136.0L145.9 137.6L146.0 138.7L146.5 139.8L147.4 141.2L150.3 144.7L151.0 145.0L158.5 138.3L161.8 135.9L167.5 128.9L169.0 126.5L169.9 124.5Z"/>
<path fill="#3333ff" d="M148.6 142.8L146.4 140.2L145.6 139.7L145.0 139.7L141.0 145.1L140.1 146.7L139.6 148.1L139.6 149.5L140.5 151.5L141.0 151.8L141.5 151.7L144.1 149.4L147.6 147.0L148.8 145.7L149.1 144.3ZM161.8 171.9L164.5 167.9L165.9 165.4L165.9 164.5L165.5 163.9L164.6 163.5L163.1 163.5L161.5 164.1L159.7 165.4L157.9 167.3L155.9 169.8L154.9 171.8L154.8 173.1L155.7 173.7L157.5 173.8L159.2 173.5L160.6 172.8Z"/>
<path fill="#ff7020" d="M160.3 137.0L158.5 138.3L153.9 142.4L152.4 144.2L151.1 145.9L150.2 147.8L149.5 149.7L149.1 151.4L148.9 153.0L149.0 154.6L149.4 155.9L149.8 156.8L150.2 157.2L150.7 157.1L152.3 155.0L160.3 141.4L161.5 139.0L162.0 137.5L161.8 137.0L161.5 136.7Z"/>
<path fill="#ddff88" d="M150.3 162.6L152.4 161.6L153.6 160.8L156.3 158.6L157.8 157.2L162.7 151.3L163.8 149.5L164.5 148.3L164.6 147.5L164.2 147.1L163.2 147.4L161.5 148.4L156.4 152.2L151.2 156.5L149.8 158.6L148.5 162.1L148.6 162.8L148.9 162.8Z"/>
<path fill="#2449ff" d="M51.6 169.4L53.4 167.6L54.6 165.9L55.2 164.2L55.1 162.6L54.4 161.0L53.6 160.3L52.5 160.3L51.2 161.2L49.7 162.9L48.7 164.6L48.1 166.2L48.0 167.9L48.4 169.6L49.1 170.4L50.2 170.3ZM122.5 177.9L121.7 178.0L120.7 178.8L109.8 190.3L105.4 196.0L105.2 197.0L105.8 197.7L107.2 198.0L112.9 197.9L114.6 193.0Z"/>
<path fill="#ff50b0" d="M58.8 163.9L57.2 164.3L56.0 165.2L51.6 169.4L48.5 172.7L47.9 173.8L46.3 178.2L46.0 179.5L46.0 180.4L46.4 180.8L48.2 180.2L51.5 178.2L53.8 176.7L55.6 175.0L57.0 172.9L58.0 170.5L58.8 165.9L58.9 164.5ZM114.2 198.0L111.6 198.0L109.9 198.5L108.9 199.5L108.8 201.0L109.6 203.0L109.9 204.8L109.7 206.6L109.1 208.2L108.0 209.7L106.9 212.1L106.8 212.9L107.2 214.2L107.1 215.0L106.1 218.9L107.0 222.6L107.5 223.4L109.4 225.2L110.9 226.1L112.3 226.6L113.6 226.7L114.7 226.2L116.6 224.4L117.1 223.6L117.3 222.7L117.3 220.1L116.2 216.3L116.5 214.5L117.3 212.7L117.3 210.4L117.0 207.1L117.6 205.6L118.0 201.0L117.4 199.5L116.2 198.5Z"/>
<path fill="#ffd020" d="M79.2 170.5L73.4 172.4L70.7 173.8L68.7 175.5L67.3 177.4L66.5 179.6L66.4 181.3L67.1 182.7L68.3 183.7L71.9 184.7L73.1 184.8L73.9 184.6L76.3 181.8L78.0 179.5L79.7 176.5L81.1 173.3L81.5 172.1L81.7 170.5L80.8 170.2Z"/>
<path fill="#ff7030" d="M82.6 178.3L87.5 177.2L90.0 176.4L90.3 176.1L94.5 170.7L96.4 167.5L96.8 166.2L96.8 165.1L96.7 164.3L96.5 163.8L96.0 163.6L95.4 163.7L89.7 167.0L86.5 169.1L83.9 171.1L81.9 173.0L80.5 174.8L79.7 176.5L79.8 177.6L80.7 178.2Z"/>
<path fill="#ffa0c0" d="M59.5 174.6L58.6 174.5L57.3 174.9L55.7 175.6L49.6 179.4L47.1 180.6L45.7 181.0L44.6 181.7L43.3 183.4L38.8 191.8L38.2 194.0L38.9 194.9L40.8 194.4L46.5 191.1L49.3 189.2L50.6 187.9L52.5 186.7L54.2 185.3L56.2 183.0L59.3 177.7L59.8 176.1L59.9 175.1Z"/>
<path fill="#44ff88" d="M66.5 179.6L67.8 175.6L68.1 174.0L68.1 172.7L68.0 171.8L67.6 171.1L67.1 170.8L66.5 170.8L64.1 172.1L62.3 173.5L61.3 174.5L60.3 175.9L58.2 179.7L57.7 181.4L57.8 182.8L58.5 183.9L59.7 184.6L60.9 185.0L62.0 185.0L63.0 184.6L64.0 183.9L64.9 182.8ZM80.6 227.7L79.9 226.8L79.0 226.3L77.8 225.9L76.5 225.9L74.9 226.1L73.6 226.7L72.5 227.9L71.6 229.5L70.8 233.2L70.7 234.5L71.0 235.4L72.1 236.3L73.0 236.9L76.5 235.3L80.1 233.1L81.1 232.1L81.7 231.2L81.5 229.4Z"/>
<path fill="#33ff77" d="M90.3 176.1L90.0 176.4L89.0 176.8L82.6 178.3L80.3 178.9L78.5 179.8L77.2 180.7L73.1 185.7L68.5 193.2L68.0 195.6L69.0 197.2L71.4 198.0L75.3 198.0L78.4 197.8L80.5 197.3L81.9 196.7L82.3 195.8L82.6 194.2L81.8 191.8L81.8 190.2L82.1 189.3L83.4 187.0L86.0 184.0L87.3 183.0L88.6 182.6L89.7 182.8L90.8 183.7L91.8 184.1L92.9 184.2L93.9 183.8L96.6 181.5L98.2 179.1L98.3 178.4L96.9 177.6L92.1 176.2Z"/>
<path fill="#ffff22" d="M35.4 187.0L38.1 185.4L39.6 184.0L40.1 182.8L39.6 181.6L37.9 180.7L35.9 180.8L33.6 182.1L30.8 184.5L25.5 190.6L23.6 193.2L24.5 192.7L29.7 188.9L30.6 188.5L31.1 188.4L31.3 188.7L32.0 188.6Z"/>
<path fill="#ff3121" d="M64.0 183.9L61.5 185.9L53.6 194.9L52.3 196.8L52.8 197.4L54.3 197.8L56.8 198.0L60.3 198.0L63.4 197.2L66.2 195.6L68.5 193.2L70.4 190.0L71.3 187.5L71.3 185.6L70.3 184.3L68.3 183.7L66.6 183.4L65.2 183.5Z"/>
<path fill="#ff22ff" d="M106.6 173.3L98.5 179.3L95.8 182.2L92.9 184.7L89.2 188.8L84.0 193.8L82.3 195.8L81.9 196.7L82.5 197.3L84.3 197.8L87.2 198.0L91.3 198.0L94.8 197.2L97.7 195.7L100.1 193.4L104.9 185.7L109.3 181.9L110.4 180.1L111.1 178.2L111.2 176.0L110.8 173.5L110.2 171.9L109.5 171.2L108.7 171.3Z"/>
<path fill="#49ff6d" d="M53.3 186.1L50.1 188.3L49.3 189.2L48.3 191.2L46.9 194.9L46.7 196.5L47.1 197.5L47.9 198.0L50.6 197.8L51.5 197.4L52.3 196.8L54.6 193.6L60.6 187.0L61.0 186.5L61.0 185.9L60.6 185.3L59.7 184.6L58.5 183.9L57.3 183.6L56.2 183.7L55.2 184.3Z"/>
<path fill="#ff4050" d="M111.0 150.2L108.8 151.5L105.8 153.8L102.5 156.9L99.3 160.6L97.3 163.8L96.8 165.1L96.8 166.2L97.0 167.0L97.5 167.5L98.3 167.8L99.3 167.9L100.7 167.5L102.4 166.5L107.0 163.2L110.5 160.1L111.5 158.8L112.0 157.7L112.4 155.1L112.1 152.2L111.4 150.4Z"/>
<path fill="#3344ff" d="M107.8 172.3L111.0 168.5L111.3 167.7L111.3 166.5L111.0 163.2L110.2 162.3L108.9 162.3L107.0 163.2L104.6 165.1L102.6 167.2L101.0 169.4L99.9 171.7L98.3 178.7L99.8 178.1L105.1 174.5ZM97.1 237.2L97.3 238.6L97.9 239.7L98.7 240.6L99.8 241.1L101.2 241.4L102.6 241.2L103.8 240.5L105.1 239.2L106.3 237.4L106.9 236.0L106.9 234.8L106.4 234.0L105.3 233.5L104.1 233.3L102.7 233.4L101.1 233.7L99.3 234.2L98.1 235.0L97.3 236.0Z"/>
<path fill="#ff4070" d="M139.4 164.3L139.1 162.9L138.1 162.4L136.5 162.8L134.3 164.1L129.0 168.5L127.0 170.6L125.4 172.6L124.3 174.6L124.1 175.9L124.9 176.4L126.6 176.1L129.3 175.1L131.7 173.8L133.9 172.4L135.8 170.8L137.4 169.0L138.6 167.3L139.2 165.7Z"/>
<path fill="#d6ffa5" d="M151.3 162.2L150.3 162.6L149.4 163.2L148.5 164.2L146.3 168.6L145.3 170.2L141.4 175.2L138.8 179.0L137.6 181.0L137.4 182.3L138.3 182.9L140.3 182.6L143.3 181.7L146.6 179.6L150.2 176.4L154.2 172.1L158.4 166.6L161.2 162.5L162.5 159.5L162.4 157.9L160.8 157.4L159.3 157.4L157.8 157.8L156.3 158.6L153.6 160.8Z"/>
<path fill="#44bbff" d="M129.3 192.2L127.6 194.5L126.8 196.3L127.0 197.4L128.3 198.0L130.6 198.0L132.5 197.7L134.2 197.0L135.5 196.0L136.5 194.7L136.9 193.5L136.7 192.4L135.8 191.3L134.3 190.3L132.7 190.1L131.0 190.8Z"/>
<path fill="#fff742" d="M243.7 71.4L246.3 67.7L247.4 65.7L249.1 61.0L249.3 59.5L248.9 58.8L247.9 58.9L246.4 59.9L242.8 63.2L238.7 68.1L237.4 70.3L237.0 72.0L237.4 73.1L239.7 74.1L241.0 74.3Z"/>
<path fill="#3737ff" d="M234.7 73.0L240.8 65.4L242.8 62.7L245.9 57.1L247.2 54.3L246.9 53.8L245.0 55.6L241.5 59.7L236.5 66.2L233.0 70.9L231.2 73.8L230.9 75.0ZM248.8 65.8L251.3 63.6L253.1 61.7L257.8 56.1L259.6 53.5L260.9 51.2L261.5 49.4L261.5 48.0L260.9 47.6L259.6 48.1L257.8 49.6L250.7 56.8L249.8 59.1L248.4 63.4L248.1 65.0L248.2 65.8Z"/>
<path fill="#ddff44" d="M255.3 52.1L257.8 49.6L259.6 47.5L260.9 45.6L261.5 44.0L261.5 42.8L261.3 42.1L260.8 42.0L260.1 42.4L258.2 44.9L253.9 51.7L253.4 53.1L253.8 53.2Z"/>
<path fill="#49ffff" d="M261.3 39.9L261.5 36.6L261.0 36.0L259.9 36.5L258.3 38.1L256.2 40.8L254.9 42.9L254.5 44.2L254.8 45.0L256.1 45.0L257.2 44.7L258.3 44.2L259.2 43.5L260.1 42.4L260.8 41.2ZM180.4 140.0L185.2 135.8L187.8 133.2L188.3 132.5L189.3 130.4L190.1 127.4L189.5 127.4L188.0 128.9L185.4 131.9L181.8 136.5L179.8 139.4L179.3 140.5ZM106.4 246.6L109.4 246.4L110.2 246.0L110.6 245.4L110.6 244.6L110.2 244.1L109.5 243.7L108.3 243.5L106.7 243.5L105.5 243.7L104.6 244.1L104.2 244.6L104.0 245.4L104.4 246.0L105.2 246.4Z"/>
<path fill="#ff4060" d="M251.2 65.5L251.0 66.6L251.0 68.3L251.6 69.2L252.5 68.8L253.8 67.7L258.0 63.2L259.8 60.8L260.9 58.5L261.5 56.4L261.5 54.5L260.9 53.8L259.6 54.3L257.8 56.1L253.3 61.8L252.0 63.9Z"/>
<path fill="#ff8820" d="M252.0 70.1L252.2 76.2L251.9 77.6L251.3 78.8L249.4 81.8L248.7 83.5L249.0 84.0L249.9 84.1L251.3 83.7L253.3 83.0L255.2 82.0L256.8 80.8L258.3 79.3L259.6 77.6L260.5 75.3L261.2 72.5L261.5 69.1L261.5 65.2L260.9 62.9L259.8 62.3L258.0 63.2L253.9 67.8Z"/>
<path fill="#bbff88" d="M221.4 94.2L220.3 97.5L220.4 98.3L220.9 98.5L221.8 98.2L222.9 97.1L224.3 95.3L225.9 92.8L229.0 86.9L229.7 85.1L229.9 84.1L229.4 83.9L229.4 83.1L230.8 79.7L232.2 77.2L232.9 75.5L232.9 74.5L232.3 74.4L230.9 75.0L229.0 76.6L226.6 79.1L223.6 82.7L217.4 90.8L214.6 95.1L214.4 95.8L214.8 96.0L215.8 95.7L219.4 93.5L220.7 92.9L221.4 93.2Z"/>
<path fill="#ff50a0" d="M224.9 98.2L226.8 96.3L228.3 94.5L234.3 86.1L237.8 80.6L241.2 74.2L234.3 80.8L232.0 83.5L229.8 86.4L227.7 89.5L225.9 92.8L224.5 95.3L223.3 98.3L223.5 98.7L223.8 98.8Z"/>
<path fill="#ffee66" d="M235.0 72.7L233.3 75.2L229.9 81.7L229.4 83.1L229.4 83.9L229.9 84.1L230.8 83.7L234.3 80.8L236.9 78.3L238.4 76.3L239.0 74.7L238.7 73.6L236.3 72.7Z"/>
<path fill="#37ff49" d="M235.7 101.4L237.9 99.9L239.9 98.0L241.9 95.7L243.8 92.9L245.6 89.7L248.1 85.0L249.0 82.7L248.7 82.5L247.9 83.0L244.5 86.0L242.5 88.3L240.4 91.0L235.9 98.0L234.7 100.4L234.6 101.6ZM150.5 184.9L154.1 181.7L156.7 179.1L159.4 175.4L159.8 174.8L159.6 174.3L158.8 174.0L155.7 173.7L153.0 174.2L152.1 174.7L151.5 175.4L150.3 178.4L148.8 183.3L148.7 184.9L149.3 185.5ZM170.1 174.1L167.6 177.7L166.6 179.6L164.3 184.9L161.1 193.6L166.3 187.0L169.6 181.6L172.2 175.8L172.9 173.7L173.0 172.5L172.6 172.2ZM195.7 151.0L201.1 142.6L202.5 140.1L203.0 138.6L202.1 139.0L200.7 139.9L199.3 141.2L191.7 150.2L189.7 153.1L188.8 155.0L189.0 156.0L190.3 156.0L191.9 155.2L193.7 153.5ZM109.1 237.9L109.8 239.9L110.8 241.4L111.9 242.3L113.1 242.5L114.6 242.2L115.8 241.6L116.7 240.8L117.4 239.7L117.8 238.4L117.7 237.2L117.1 236.0L116.1 234.9L114.6 233.9L113.2 233.3L111.9 233.1L110.7 233.3L109.7 233.9L109.0 234.8L108.9 236.2Z"/>
<path fill="#ff2255" d="M241.3 83.4L241.2 82.5L240.8 82.1L240.1 82.1L237.7 83.3L236.1 84.7L232.3 89.1L228.6 94.5L227.7 96.4L227.5 97.7L228.1 99.2L227.8 100.8L225.1 104.9L219.3 112.8L218.0 114.7L216.6 117.2L216.3 118.3L216.1 120.7L216.2 122.0L216.5 122.9L217.0 123.2L217.6 123.0L220.4 120.7L226.8 110.8L233.9 101.1L238.2 94.3L240.6 89.6L240.7 88.7L240.1 88.6L239.8 88.4L239.7 87.9L240.9 85.2ZM106.4 217.1L107.1 215.0L107.1 213.5L106.8 212.9L105.6 211.7L103.5 210.7L102.2 210.6L100.9 210.8L99.6 211.3L97.3 213.1L96.2 214.3L96.4 215.3L98.4 218.2L99.4 219.0L100.6 219.5L102.0 219.6L103.5 219.3L104.8 218.8L105.8 218.1Z"/>
<path fill="#9933ff" d="M216.4 102.3L217.7 101.0L219.8 97.9L221.4 94.2L221.4 93.2L220.7 92.9L219.4 93.5L214.1 97.0L214.3 101.7L214.7 102.6L215.4 102.8ZM168.2 161.5L171.1 157.2L173.0 153.8L174.0 150.9L174.0 149.8L173.7 148.8L172.7 149.1L171.0 150.7L168.6 153.4L165.5 157.4L163.6 160.4L162.8 162.5L163.1 163.5L164.6 163.5L165.9 163.2L167.1 162.6ZM134.0 219.4L134.0 220.5L134.5 220.7L135.4 220.2L138.8 216.8L142.9 211.5L144.3 209.0L144.5 208.3L144.4 207.9L143.9 207.8L143.0 208.4L141.6 209.7L137.5 214.0L135.7 216.2L134.6 218.0Z"/>
<path fill="#cc33ff" d="M209.1 113.8L211.6 113.6L213.3 112.8L221.9 101.4L223.5 98.7L223.3 98.3L223.0 98.1L221.8 98.2L219.9 99.1L218.8 99.9L216.4 102.3L209.9 110.3L208.8 112.0L208.6 113.2Z"/>
<path fill="#40ffaa" d="M215.4 112.8L216.8 115.0L217.1 115.1L217.3 115.0L223.3 107.3L226.5 103.0L227.8 100.8L228.1 99.2L227.5 97.7L227.0 97.3L226.4 97.3L225.7 97.6L224.9 98.2L222.2 101.3L218.0 106.8L216.4 109.3L215.5 111.3Z"/>
<path fill="#ff8060" d="M237.9 99.9L233.8 102.8L230.7 105.6L226.8 110.8L223.4 116.0L221.1 120.0L221.4 119.9L221.8 120.1L222.3 120.6L223.8 122.5L225.4 122.0L227.9 119.8L231.1 116.0L241.2 102.2L241.1 99.4L240.6 98.9L239.5 99.1Z"/>
<path fill="#ff2244" d="M252.0 70.1L252.0 69.7L251.3 68.8L250.4 69.4L247.1 73.1L244.7 76.4L241.7 81.0L241.2 82.5L241.3 83.4L242.0 83.1L243.3 81.8Z"/>
<path fill="#b637ff" d="M202.3 119.3L199.7 123.6L199.3 125.2L199.6 125.7L200.2 125.9L201.2 125.9L203.5 125.5L204.9 124.9L209.8 117.8L210.8 115.8L211.0 114.4L210.5 113.8L207.9 114.0L206.8 114.4L205.1 115.7Z"/>
<path fill="#ffee88" d="M193.9 134.7L198.7 126.6L199.3 125.2L199.3 123.7L189.7 130.8L188.3 132.5L187.2 134.3L185.0 139.7L184.1 142.5L184.0 143.2L184.4 143.7L188.4 141.3L190.1 139.7L192.0 137.5Z"/>
<path fill="#3bffeb" d="M196.1 131.3L193.9 134.7L191.5 139.1L191.2 140.2L191.6 140.8L191.4 141.9L191.4 142.2L191.7 142.5L192.9 142.7L194.5 142.1L196.3 140.8L197.5 139.4L200.6 134.6L204.1 128.6L205.5 125.6L205.2 125.0L204.9 124.9L203.5 125.5L201.2 125.9L199.7 126.9L198.0 128.7Z"/>
<path fill="#cc44ff" d="M177.9 148.1L180.2 146.1L182.2 144.0L183.8 141.9L185.0 139.7L185.8 137.5L185.8 136.5L184.9 136.5L183.1 137.7L176.5 143.6L174.5 145.9L174.0 146.9L173.7 147.9L173.7 148.8L174.0 149.8L174.8 150.0L176.1 149.4Z"/>
<path fill="#ff44ff" d="M191.7 150.2L197.0 143.5L198.4 141.4L198.8 140.3L198.3 140.0L197.1 140.3L195.4 141.6L194.1 143.0L188.3 151.6L185.4 156.2L184.7 157.6L185.1 157.5L186.1 156.7Z"/>
<path fill="#ccff88" d="M194.8 156.8L198.4 153.5L201.0 150.6L202.7 148.0L204.0 145.6L204.6 144.4L204.7 143.5L204.5 142.9L203.9 142.6L202.8 142.5L201.5 143.4L199.9 145.0L198.0 147.6L192.6 155.9L191.2 158.5L190.8 159.6L191.0 159.7L191.3 159.5Z"/>
<path fill="#ffee44" d="M167.9 165.8L173.7 161.3L175.1 160.0L176.3 157.9L178.1 154.4L178.2 153.4L177.6 153.3L176.1 154.0L173.9 155.7L170.4 158.8L169.2 160.2L166.6 164.2L165.3 166.7L165.4 167.1L166.3 166.8Z"/>
<path fill="#88aaff" d="M181.1 156.2L178.7 157.8L175.6 159.5L174.6 160.5L167.9 170.6L166.5 173.3L166.0 175.0L166.4 175.6L170.0 174.2L173.7 171.4L177.7 167.3L181.7 162.3L183.7 159.2L184.8 157.3L184.1 156.7L182.6 156.2ZM155.2 190.9L154.6 190.9L153.6 191.1L152.6 191.8L147.8 198.5L144.6 204.2L143.7 206.7L143.7 207.4L143.9 207.8L144.4 207.9L146.5 206.2L150.3 202.3L152.1 200.1L153.4 198.0L154.4 196.0L155.4 192.5L155.5 191.5Z"/>
<path fill="#8855ff" d="M154.0 190.3L159.2 183.0L160.6 180.5L161.2 178.7L161.1 177.5L160.2 177.0L159.3 176.9L158.4 177.2L157.5 177.9L155.7 180.6L151.7 187.8L150.7 190.0L150.3 191.5L150.4 192.3L151.6 192.3L152.6 191.8ZM191.3 159.5L190.3 160.3L188.1 162.8L186.5 164.7L185.1 167.2L183.7 170.2L182.5 173.8L180.7 181.0L180.0 184.5L181.7 182.6L185.5 177.6L187.3 174.5L188.8 171.3L189.9 168.0L190.7 164.5L191.2 161.9Z"/>
<path fill="#ff3060" d="M161.6 193.6L161.7 193.8L162.9 193.5L165.2 192.4L166.5 191.5L169.3 188.9L170.9 187.2L172.4 185.3L175.2 180.6L176.6 177.8L177.0 176.3L176.5 176.1L175.1 177.2L170.5 182.0L164.3 189.6Z"/>
<path fill="#b6ff37" d="M165.2 192.4L162.2 193.7L161.7 193.8L161.2 193.5L159.0 195.7L156.5 199.2L152.7 205.0L151.3 207.5L150.6 209.3L150.6 210.5L151.4 210.9L152.1 211.0L153.0 210.9L153.9 210.4L158.3 207.3L161.3 204.7L162.8 202.8L164.1 200.7L165.1 198.3L165.9 195.5L166.1 193.6L165.9 192.6Z"/>
<path fill="#ffdd22" d="M139.0 207.6L135.5 211.4L134.2 213.7L134.0 214.9L134.0 216.1L134.6 216.3L135.7 215.6L137.5 214.0L141.6 209.3L144.0 205.6L144.6 204.2L144.5 203.6L143.8 203.7L142.6 204.5Z"/>
<path fill="#ffcc22" d="M144.6 222.6L145.4 222.8L146.4 222.0L147.9 220.4L155.6 210.5L156.7 209.1L156.8 208.5L156.3 208.7L153.9 210.4L149.9 214.7L145.1 221.0L144.6 222.2Z"/>
<path fill="#ff60a0" d="M141.6 214.6L141.6 214.2L140.2 215.4L136.9 218.9L135.4 220.8L134.5 222.6L134.0 224.2L134.0 225.6L134.5 225.9L135.4 225.0L136.8 223.0Z"/>
<path fill="#ff9020" d="M138.3 241.2L143.4 234.3L145.5 231.1L145.0 230.4L144.0 229.7L143.8 229.1L143.8 228.1L144.3 226.8L145.5 224.0L145.6 223.2L145.4 222.8L144.9 222.8L142.4 225.0L137.8 230.3L135.9 233.3L134.6 236.3L134.0 239.4L134.0 242.4L134.7 243.7L136.2 243.3Z"/>
<path fill="#ffa820" d="M151.4 210.9L150.6 210.5L149.9 210.4L149.2 210.6L148.6 211.1L144.1 217.3L143.5 218.5L143.4 219.3L143.7 219.8L144.5 219.8L145.5 219.3L148.2 216.7L151.0 213.0L151.5 211.7Z"/>
<path fill="#49ff24" d="M213.5 134.6L213.3 136.9L213.4 137.6L213.7 138.0L214.1 138.1L215.0 137.3L218.5 133.0L221.1 129.5L222.9 126.6L223.8 124.2L223.8 122.5L221.8 120.1L221.4 119.9L220.9 120.2L220.1 120.9L219.5 121.9L214.8 130.8Z"/>
<path fill="#46ff9e" d="M206.2 125.8L205.3 126.9L204.2 128.6L199.3 137.1L198.5 139.0L198.3 140.0L198.8 140.3L200.0 140.2L201.5 139.4L202.4 138.3L204.6 134.6L205.9 131.9L207.3 128.1L207.4 127.0L206.8 126.1Z"/>
<path fill="#37ff6d" d="M194.9 119.7L191.9 123.8L190.8 125.7L190.1 127.4L189.5 130.2L189.5 131.1L196.4 121.4L198.1 118.7L199.0 116.9L199.1 116.1L198.4 116.2L197.5 116.9Z"/>
<path fill="#ffe684" d="M196.7 155.1L194.8 156.8L193.1 158.9L191.8 161.5L190.7 164.5L189.9 168.0L190.1 169.6L191.2 169.2L193.3 167.0L196.4 162.8L198.7 159.4L200.0 156.8L200.5 155.1L200.2 154.1L199.4 153.8L198.3 154.1Z"/>
<path fill="#7777ff" d="M23.7 198.0L21.8 198.0L20.4 198.5L19.5 199.4L19.0 200.8L19.0 202.7L19.4 204.2L20.1 205.3L21.3 206.0L22.8 206.3L25.2 206.4L26.0 206.1L26.6 205.7L27.0 204.9L27.2 202.4L26.9 200.6L26.3 199.3L25.2 198.4Z"/>
<path fill="#ff9030" d="M39.1 199.5L41.4 205.0L42.5 206.6L43.7 207.4L44.9 207.5L46.1 206.8L47.0 205.8L47.5 204.5L47.7 202.9L47.5 200.9L46.8 199.5L45.6 198.5L44.1 198.0L40.5 198.1L38.9 198.4Z"/>
<path fill="#ffb050" d="M76.0 210.8L77.1 209.0L77.1 208.0L76.5 204.4L75.9 201.8L74.9 199.9L73.4 198.6L71.5 198.0L69.1 198.0L67.3 198.6L66.0 199.8L65.3 201.6L65.2 204.1L65.6 206.2L66.7 207.9L68.3 209.3L72.4 211.1L74.4 211.8L75.0 211.7Z"/>
<path fill="#88ff88" d="M93.3 202.1L92.9 200.4L92.3 199.2L91.2 198.4L89.9 198.0L88.2 198.0L86.9 198.3L86.0 199.0L85.5 200.0L85.4 201.3L85.8 202.5L86.6 203.5L87.9 204.4L91.0 205.5L92.1 205.7L92.8 205.6L93.2 205.1L93.4 204.4Z"/>
<path fill="#cc88ff" d="M84.8 203.9L83.9 204.8L77.7 208.4L77.1 209.0L76.3 210.4L75.6 211.2L75.7 212.0L76.1 213.3L78.3 217.3L79.7 218.8L81.1 219.5L82.6 219.4L86.8 217.2L86.8 214.1L87.3 212.8L88.3 211.8L91.0 210.2L91.8 208.7L92.0 207.7L91.7 206.8L90.9 205.9L89.6 205.1L87.9 204.4L86.5 203.9L85.5 203.8Z"/>
<path fill="#5bffff" d="M19.0 209.0L19.0 213.0L19.3 214.8L21.0 215.9L26.5 220.6L27.1 221.0L27.7 220.8L31.0 216.8L31.6 216.2L31.8 215.7L32.4 213.3L32.8 210.0L32.9 208.9L32.7 208.1L32.4 207.6L30.3 206.2L28.2 205.5L27.3 205.5L26.6 205.7L26.0 206.1L25.2 206.4L22.8 206.3L21.3 206.0L20.1 206.3L19.4 207.3Z"/>
<path fill="#fff721" d="M61.9 214.9L62.0 212.7L61.7 211.0L60.9 209.7L59.5 209.0L57.6 208.7L56.0 209.0L54.8 209.7L53.8 210.9L53.1 212.5L52.7 214.1L52.7 215.4L53.0 216.7L53.6 217.8L54.5 218.5L55.7 218.9L57.2 219.0L59.0 218.7L60.3 218.0L61.3 216.7Z"/>
<path fill="#eeff99" d="M66.6 221.9L67.2 221.9L68.1 221.3L69.1 220.1L71.8 215.7L72.3 213.5L71.9 211.8L70.6 210.4L66.5 208.6L65.0 208.3L64.0 208.3L63.3 208.7L62.8 209.6L62.4 210.9L61.9 214.9L62.0 216.9L62.4 218.4L63.1 219.7L65.1 221.3Z"/>
<path fill="#ffffff" d="M96.0 213.8L93.3 211.5L91.2 210.7L90.4 210.7L89.6 211.0L88.3 211.8L87.3 212.8L86.8 214.1L86.8 215.7L87.2 216.4L87.9 217.0L88.9 217.5L90.1 217.9L91.4 218.0L92.5 217.8L93.6 217.3L94.6 216.5L96.2 214.7L96.2 214.3Z"/>
<path fill="#8844ff" d="M24.1 218.6L20.0 215.1L19.3 214.8L19.0 216.6L19.0 221.0L19.5 222.7L20.5 223.5L21.9 223.4L23.9 222.4L24.9 221.3L25.0 220.1ZM123.9 235.6L123.5 235.4L122.2 235.5L120.1 235.9L119.1 236.5L118.4 237.3L117.8 238.4L117.4 239.7L117.3 241.0L117.5 242.3L117.9 243.6L118.6 244.8L119.6 245.7L120.8 246.3L122.3 246.6L124.0 246.6L125.3 246.0L126.0 244.8L126.3 243.0L126.0 240.6L126.3 238.8L127.2 237.6L128.7 237.0L130.8 237.0L132.4 236.6L133.5 235.7L134.0 234.4L134.0 232.6L133.8 231.3L133.4 230.3L132.8 229.8L132.0 229.6L131.0 229.9L128.4 231.8L125.6 234.6Z"/>
<path fill="#80ff37" d="M31.6 216.2L30.4 217.4L28.9 219.4L28.5 220.8L28.6 222.4L29.0 224.2L30.8 227.8L32.1 229.5L32.7 229.6L33.4 229.0L35.1 225.4L36.2 222.5L36.7 220.1L36.5 218.4L35.6 217.3L33.0 216.4Z"/>
<path fill="#33aaff" d="M53.6 217.8L53.0 216.7L52.0 215.9L50.6 215.3L48.8 215.0L46.7 215.0L43.7 215.5L43.0 215.9L42.6 216.5L42.5 217.3L42.6 218.4L43.5 221.0L44.4 222.1L45.7 222.8L47.4 223.2L51.2 223.1L53.1 222.7L54.2 220.4L54.2 219.6ZM105.5 243.4L109.5 243.4L110.8 243.2L109.1 237.9L108.3 236.8L107.3 236.6L106.3 237.4L104.3 240.7L103.8 241.7L103.7 242.5L103.9 242.9Z"/>
<path fill="#aaff33" d="M79.2 224.6L80.1 221.5L79.9 220.5L78.3 217.3L75.2 212.3L74.7 211.8L74.4 211.8L73.0 213.8L70.3 218.2L69.5 220.3L69.3 222.1L69.8 223.6L70.9 224.7L72.1 225.5L73.4 225.9L74.9 226.1L76.5 225.9L77.7 225.6L78.6 225.1Z"/>
<path fill="#ff55dd" d="M84.2 218.6L82.6 219.4L80.6 220.9L80.1 221.5L80.0 222.1L80.4 222.6L82.3 223.0L83.9 223.0L86.1 222.7L86.7 222.4L87.1 221.4L86.9 218.8L86.4 218.3L85.5 218.2Z"/>
<path fill="#ed49ff" d="M99.5 198.0L96.7 198.0L94.6 198.4L93.4 199.2L92.9 200.4L93.3 202.1L93.4 204.4L93.2 205.1L92.8 205.6L92.2 206.8L91.8 208.7L91.9 209.7L92.4 210.6L93.3 211.5L94.5 212.4L95.7 212.8L97.0 212.8L98.3 212.3L99.6 211.3L100.6 210.3L101.0 209.3L101.1 208.1L100.7 207.0L100.7 205.6L101.0 204.1L102.4 200.7L102.4 199.3L101.4 198.4Z"/>
<path fill="#77ff44" d="M109.6 203.0L108.8 201.0L108.0 199.5L107.2 198.5L106.3 198.0L105.3 198.0L104.3 198.4L103.4 199.3L102.4 200.7L101.0 204.1L100.7 205.6L100.7 207.0L101.1 208.1L101.7 209.2L102.5 210.0L103.5 210.7L104.6 211.2L105.8 211.2L106.9 210.7L108.0 209.7L109.1 208.2L109.7 206.6L109.9 204.8Z"/>
<path fill="#ff7070" d="M120.4 205.9L122.1 205.9L123.7 205.4L125.1 204.4L126.4 202.9L127.6 201.0L127.8 199.5L127.0 198.5L125.2 198.0L122.4 198.0L120.2 198.5L118.8 199.5L118.0 201.0L117.9 202.9L118.3 204.4L119.1 205.4Z"/>
<path fill="#aaff44" d="M122.1 205.9L119.0 206.0L117.4 206.3L117.2 206.6L117.0 208.0L117.3 210.4L118.1 211.5L119.3 212.1L121.0 212.5L123.3 212.5L124.8 212.1L125.7 211.2L125.9 210.0L125.4 208.4L124.6 207.1L123.5 206.3ZM103.4 229.4L103.5 230.8L103.9 231.9L104.5 232.8L105.3 233.5L106.4 234.0L107.5 234.2L108.6 234.2L109.7 233.9L110.7 233.3L111.6 232.5L112.2 231.6L112.6 230.6L112.8 229.4L112.6 228.2L112.0 227.2L110.9 226.1L109.4 225.2L108.1 224.7L106.8 224.6L105.7 225.1L104.7 226.0L104.0 227.0L103.5 228.1ZM114.6 242.2L110.8 243.2L110.6 245.4L111.2 246.0L112.3 246.4L114.0 246.6L116.3 246.6L117.8 246.3L118.6 245.7L118.6 244.8L117.9 243.6L117.0 242.7L115.9 242.3Z"/>
<path fill="#ffff44" d="M90.1 217.9L87.9 217.3L86.8 217.2L87.1 219.8L87.4 220.6L88.5 222.0L89.9 222.6L90.5 222.5L91.0 222.0L91.9 220.7L92.2 219.6L92.2 219.2L91.8 218.8Z"/>
<path fill="#4effff" d="M126.2 215.6L126.7 212.5L121.0 212.5L119.2 212.7L117.9 213.1L117.0 213.7L116.5 214.5L116.2 216.3L116.7 218.3L117.5 218.9L118.8 219.1L120.5 218.9L122.7 218.2L124.3 217.5L125.5 216.6Z"/>
<path fill="#ff70a0" d="M127.5 221.6L127.0 224.1L127.1 224.7L127.6 225.4L129.3 227.6L131.2 229.2L132.8 229.8L133.4 229.1L133.8 227.7L134.0 222.5L133.6 220.4L132.8 219.2L131.6 219.0L128.7 220.3L127.9 221.0Z"/>
<path fill="#8888ff" d="M27.0 231.5L28.7 230.6L29.8 229.4L30.2 228.0L29.9 226.2L27.7 221.6L27.4 221.1L27.1 221.0L21.9 223.4L20.5 224.6L19.5 226.0L19.0 227.6L19.0 229.5L19.3 231.0L20.0 232.0L21.0 232.6L22.4 232.7L23.8 232.6Z"/>
<path fill="#9944ff" d="M67.2 221.9L66.6 221.9L65.9 222.2L64.3 223.8L62.6 226.3L61.0 230.1L60.9 231.3L61.1 232.3L61.6 233.3L62.5 234.1L63.6 234.7L64.8 235.0L66.2 235.1L67.8 234.9L69.1 234.2L70.2 233.1L71.1 231.5L71.6 229.5L71.8 227.6L71.6 226.1L70.9 224.7L68.8 222.8Z"/>
<path fill="#ff5060" d="M89.2 222.4L88.5 222.0L87.3 221.7L86.1 222.7L85.1 222.9L81.0 223.2L80.1 223.5L79.5 224.0L79.2 224.6L79.4 226.1L80.6 227.7L81.5 228.3L82.6 228.5L83.8 228.5L87.1 227.7L89.4 226.1L90.2 225.2L90.3 224.0L90.1 223.4Z"/>
<path fill="#77ff33" d="M85.2 228.3L83.8 228.5L82.7 229.0L82.0 229.6L81.7 230.3L81.7 231.2L82.3 233.1L83.8 235.3L84.8 236.1L86.0 236.4L87.3 236.3L91.5 234.6L90.9 233.3L89.0 230.3L87.8 229.1L86.6 228.5Z"/>
<path fill="#ccff44" d="M25.5 236.5L27.0 242.1L27.1 242.9L26.8 244.0L26.7 245.4L27.4 246.0L28.8 246.4L30.9 246.6L33.7 246.6L35.8 246.3L37.1 245.6L37.7 244.7L37.6 243.4L37.1 241.4L36.1 240.2L35.7 239.3L35.1 236.2L34.8 232.3L34.3 230.4L32.1 229.5L31.3 229.6L28.7 230.6L27.0 231.5L25.9 232.8L25.4 234.5Z"/>
<path fill="#ff6020" d="M62.5 234.1L61.6 233.3L60.6 232.7L59.3 232.3L57.9 232.0L53.9 232.3L52.8 232.8L52.6 233.9L52.7 235.7L53.5 241.6L54.3 244.1L55.4 245.8L56.7 246.6L58.3 246.6L59.7 245.9L60.8 244.5L61.8 242.4L62.6 239.6L63.0 237.3L63.0 235.4Z"/>
<path fill="#eeffaa" d="M50.1 233.3L48.7 233.3L47.5 233.7L46.5 234.5L45.6 235.7L45.0 237.2L44.9 238.8L45.2 240.5L46.0 242.2L47.3 244.0L48.6 245.3L49.9 246.2L51.2 246.6L52.5 246.6L53.3 245.8L53.6 244.1L53.5 241.6L53.0 238.3L52.2 235.8L51.2 234.1Z"/>
<path fill="#ff44ee" d="M62.6 239.6L61.8 242.4L61.8 244.5L62.4 245.9L63.9 246.6L66.0 246.6L67.8 246.0L69.3 244.7L70.4 242.9L71.7 238.4L71.8 236.9L71.6 235.9L71.0 235.4L69.1 234.9L66.2 235.1L64.8 235.9L63.6 237.4Z"/>
<path fill="#ff90d0" d="M72.4 237.4L70.4 242.9L70.3 244.7L70.8 246.0L72.0 246.6L73.9 246.6L75.3 246.2L76.3 245.5L76.8 244.4L76.9 242.9L76.8 241.5L76.4 240.3L75.7 239.3L73.0 236.9L72.8 236.8Z"/>
<path fill="#aaff22" d="M78.6 234.2L76.5 235.3L75.2 236.4L74.6 237.4L74.8 238.3L75.7 239.3L76.8 239.9L78.2 240.3L79.8 240.3L83.0 239.8L84.0 239.3L84.6 238.8L84.8 238.1L84.7 237.3L83.8 235.3L82.9 234.2L81.8 233.6L80.3 233.6Z"/>
<path fill="#7766ff" d="M96.2 234.7L94.7 234.2L91.9 234.5L87.3 236.3L85.3 237.4L84.8 238.1L84.6 238.8L84.8 240.9L85.8 244.1L86.7 245.3L88.0 246.2L89.6 246.6L91.5 246.6L93.2 246.2L94.6 245.5L95.7 244.4L96.5 242.9L97.1 241.4L97.3 240.0L97.3 238.6L97.1 237.2L96.8 236.1Z"/>
<path fill="#ffee22" d="M25.3 243.3L21.9 242.2L20.4 242.2L19.5 242.6L19.0 243.4L19.0 244.7L19.5 245.6L20.4 246.3L21.9 246.6L23.8 246.6L25.3 246.4L26.2 246.0L26.7 245.4L26.7 244.7L26.2 244.0Z"/>
<path fill="#33ff55" d="M97.6 224.6L96.2 226.1L95.8 227.0L95.4 229.7L95.4 232.8L95.8 234.5L96.2 234.7L97.9 234.6L101.1 233.7L102.4 232.9L103.2 231.9L103.5 230.8L103.4 229.4L102.9 228.2L102.2 227.1L101.1 226.3Z"/>
<path fill="#37ffc8" d="M120.1 235.9L121.3 235.6L122.1 234.9L122.6 233.6L122.8 231.9L122.7 229.7L122.3 227.9L121.6 226.5L120.6 225.5L119.3 224.9L118.1 224.6L116.9 224.8L115.8 225.3L114.7 226.2L113.2 228.3L112.6 230.6L112.9 231.7L113.5 232.8L114.6 233.9L116.1 234.9L117.5 235.6L118.8 235.9Z"/>
<path fill="#ffb060" d="M122.7 229.7L123.2 234.8L123.5 235.4L123.9 235.6L125.6 234.6L128.4 231.8L129.4 230.3L129.7 228.9L129.3 227.6L128.3 226.4L127.2 225.6L126.2 225.3L125.2 225.3L124.1 225.7L123.3 226.6L122.9 227.9Z"/>
<path fill="#33ff33" d="M126.0 240.6L126.3 243.0L126.9 244.8L128.0 246.0L129.4 246.6L131.3 246.6L132.6 246.0L133.5 244.8L134.0 243.0L134.0 240.6L133.5 238.8L132.4 237.6L130.8 237.0L128.7 237.0L127.2 237.6L126.3 238.8Z"/>
</g>
</g>
<path d="M19 198.7H134" stroke="#fff" stroke-opacity="0.45" stroke-width="0.7" fill="none"/>
<path d="M134 198.5L261.5 34" stroke="#d8ffff" stroke-opacity="0.4" stroke-width="0.7" fill="none"/>
</g>
<!-- panel b -->
<text x="290" y="23.6" class="pl">(b)</text>
<rect x="330.36" y="198.09" width="4.65" height="39.31" fill="#000000"/>
<rect x="335.00" y="207.16" width="4.25" height="30.24" fill="#ff0000"/>
<rect x="339.25" y="152.73" width="4.25" height="84.67" fill="#0000ff"/>
<rect x="346.33" y="192.04" width="4.65" height="45.36" fill="#000000"/>
<rect x="350.98" y="192.04" width="4.25" height="45.36" fill="#ff0000"/>
<rect x="355.23" y="37.82" width="4.25" height="199.58" fill="#0000ff"/>
<rect x="362.31" y="152.73" width="4.65" height="84.67" fill="#000000"/>
<rect x="366.96" y="146.68" width="4.25" height="90.72" fill="#ff0000"/>
<rect x="371.21" y="101.32" width="4.25" height="136.08" fill="#0000ff"/>
<rect x="378.30" y="189.02" width="4.65" height="48.38" fill="#000000"/>
<rect x="382.94" y="195.06" width="4.25" height="42.34" fill="#ff0000"/>
<rect x="387.19" y="98.30" width="4.25" height="139.10" fill="#0000ff"/>
<rect x="394.27" y="185.99" width="4.65" height="51.41" fill="#000000"/>
<rect x="398.92" y="198.09" width="4.25" height="39.31" fill="#ff0000"/>
<rect x="403.17" y="189.02" width="4.25" height="48.38" fill="#0000ff"/>
<rect x="410.25" y="189.02" width="4.65" height="48.38" fill="#000000"/>
<rect x="414.90" y="222.28" width="4.25" height="15.12" fill="#ff0000"/>
<rect x="419.15" y="219.26" width="4.25" height="18.14" fill="#0000ff"/>
<rect x="426.24" y="207.16" width="4.65" height="30.24" fill="#000000"/>
<rect x="430.88" y="222.28" width="4.25" height="15.12" fill="#ff0000"/>
<rect x="435.13" y="225.30" width="4.25" height="12.10" fill="#0000ff"/>
<rect x="442.22" y="225.30" width="4.65" height="12.10" fill="#000000"/>
<rect x="446.87" y="228.33" width="4.25" height="9.07" fill="#ff0000"/>
<rect x="451.12" y="234.38" width="4.25" height="3.02" fill="#0000ff"/>
<rect x="462.84" y="231.35" width="4.25" height="6.05" fill="#ff0000"/>
<rect x="510.78" y="234.38" width="4.25" height="3.02" fill="#ff0000"/>
<rect x="321.15" y="18.5" width="207.55" height="218.90" fill="none" stroke="#555" stroke-width="1.15"/>
<path d="M321.15 237.40h3.0 M321.15 222.28h1.7 M321.15 207.16h3.0 M321.15 192.04h1.7 M321.15 176.92h3.0 M321.15 161.80h1.7 M321.15 146.68h3.0 M321.15 131.56h1.7 M321.15 116.44h3.0 M321.15 101.32h1.7 M321.15 86.20h3.0 M321.15 71.08h1.7 M321.15 55.96h3.0 M321.15 40.84h1.7 M321.15 25.72h3.0 M337.13 237.4v-1.7 M353.11 237.4v-3.0 M369.09 237.4v-1.7 M385.07 237.4v-3.0 M401.05 237.4v-1.7 M417.03 237.4v-3.0 M433.01 237.4v-1.7 M448.99 237.4v-3.0 M464.97 237.4v-1.7 M480.95 237.4v-3.0 M496.93 237.4v-1.7 M512.91 237.4v-3.0" stroke="#222" stroke-width="0.8" fill="none"/>
<text x="317.95" y="240.05" text-anchor="end" class="tk">0</text>
<text x="317.95" y="209.81" text-anchor="end" class="tk">10</text>
<text x="317.95" y="179.57" text-anchor="end" class="tk">20</text>
<text x="317.95" y="149.33" text-anchor="end" class="tk">30</text>
<text x="317.95" y="119.09" text-anchor="end" class="tk">40</text>
<text x="317.95" y="88.85" text-anchor="end" class="tk">50</text>
<text x="317.95" y="58.61" text-anchor="end" class="tk">60</text>
<text x="317.95" y="28.37" text-anchor="end" class="tk">70</text>
<text x="353.11" y="247.45" text-anchor="middle" class="tk">100</text>
<text x="385.07" y="247.45" text-anchor="middle" class="tk">200</text>
<text x="417.03" y="247.45" text-anchor="middle" class="tk">300</text>
<text x="448.99" y="247.45" text-anchor="middle" class="tk">400</text>
<text x="480.95" y="247.45" text-anchor="middle" class="tk">500</text>
<text x="512.91" y="247.45" text-anchor="middle" class="tk">600</text>
<text x="424.93" y="261.5" text-anchor="middle" class="lb">Grain Size/μm</text>
<text transform="translate(304.1 133.5) rotate(-90)" text-anchor="middle" class="lb">Frequency</text>
<rect x="445.1" y="28.20" width="15.9" height="5.8" fill="#000000"/>
<text x="462.6" y="34.10" class="lg">CD-TD Section</text>
<rect x="445.1" y="38.65" width="15.9" height="5.8" fill="#ff0000"/>
<text x="462.6" y="44.55" class="lg">CD-ND Section</text>
<rect x="445.1" y="49.10" width="15.9" height="5.8" fill="#0000ff"/>
<text x="462.6" y="55.00" class="lg">TD-ND Section</text>
</svg>
</body></html>
